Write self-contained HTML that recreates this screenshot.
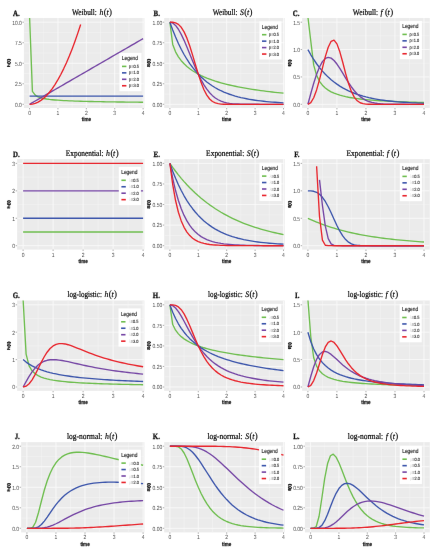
<!DOCTYPE html>
<html><head><meta charset="utf-8"><style>
html,body{margin:0;padding:0;background:#fff;}
body{width:439px;height:550px;overflow:hidden;font-family:"Liberation Sans",sans-serif;}
svg{display:block;font-family:"Liberation Sans",sans-serif;}
</style></head><body>
<svg width="439" height="550" viewBox="0 0 439 550" font-family="Liberation Sans, sans-serif" text-rendering="geometricPrecision">
<defs><clipPath id="cA"><rect x="23.9" y="18" width="120.5" height="90"/></clipPath><clipPath id="cB"><rect x="164.2" y="18" width="120.5" height="90"/></clipPath><clipPath id="cC"><rect x="302.1" y="18" width="127.7" height="90"/></clipPath><clipPath id="cD"><rect x="17.1" y="159.1" width="127.3" height="90.5"/></clipPath><clipPath id="cE"><rect x="164.2" y="159.1" width="120.5" height="90.5"/></clipPath><clipPath id="cF"><rect x="302.1" y="159.1" width="127.7" height="90.5"/></clipPath><clipPath id="cG"><rect x="17.1" y="300.5" width="127.3" height="90.4"/></clipPath><clipPath id="cH"><rect x="164.2" y="300.5" width="120.5" height="90.4"/></clipPath><clipPath id="cI"><rect x="302.1" y="300.5" width="127.7" height="90.4"/></clipPath><clipPath id="cJ"><rect x="21.1" y="442.1" width="123.3" height="90.3"/></clipPath><clipPath id="cK"><rect x="164.2" y="442.1" width="120.5" height="90.3"/></clipPath><clipPath id="cL"><rect x="304.9" y="442.1" width="124.9" height="90.3"/></clipPath><filter id="soft" x="0" y="0" width="439" height="550" filterUnits="userSpaceOnUse" color-interpolation-filters="sRGB"><feConvolveMatrix order="3" kernelMatrix="0.0009 0.0278 0.0009 0.0278 0.8855 0.0278 0.0009 0.0278 0.0009" divisor="1" edgeMode="duplicate"/></filter></defs>
<g filter="url(#soft)">
<rect width="439" height="550" fill="#ffffff"/>
<g><rect x="23.9" y="18" width="120.5" height="90" fill="#ebebeb"/><path d="M15.39 18V108M43.77 18V108M72.15 18V108M100.53 18V108M128.91 18V108M157.29 18V108M23.9 114.56H144.4M23.9 94.04H144.4M23.9 73.51H144.4M23.9 52.99H144.4M23.9 32.46H144.4M23.9 11.94H144.4" stroke="#f4f4f4" stroke-width="0.5" fill="none" clip-path="url(#cA)"/><path d="M29.58 18V108M57.96 18V108M86.34 18V108M114.72 18V108M143.1 18V108M23.9 104.3H144.4M23.9 83.78H144.4M23.9 63.25H144.4M23.9 42.73H144.4M23.9 22.2H144.4" stroke="#f9f9f9" stroke-width="0.9" fill="none" clip-path="url(#cA)"/><path d="M29.58 17 L32.41 91.32 L35.25 95.12 L38.09 96.81 L40.93 97.81 L43.77 98.49 L46.6 99 L49.44 99.39 L52.28 99.71 L55.12 99.97 L57.96 100.19 L60.8 100.39 L63.63 100.55 L66.47 100.7 L69.31 100.83 L72.15 100.95 L74.99 101.05 L77.82 101.15 L80.66 101.24 L83.5 101.32 L86.34 101.4 L89.18 101.47 L92.01 101.53 L94.85 101.59 L97.69 101.65 L100.53 101.7 L103.37 101.75 L106.2 101.8 L109.04 101.85 L111.88 101.89 L114.72 101.93 L117.56 101.97 L120.4 102.01 L123.23 102.04 L126.07 102.07 L128.91 102.11 L131.75 102.14 L134.59 102.17 L137.42 102.19 L140.26 102.22 L143.1 102.25" stroke="#6cbd4c" stroke-width="1.35" fill="none" stroke-linejoin="round" clip-path="url(#cA)"/><path d="M29.58 96.09 L32.41 96.09 L35.25 96.09 L38.09 96.09 L40.93 96.09 L43.77 96.09 L46.6 96.09 L49.44 96.09 L52.28 96.09 L55.12 96.09 L57.96 96.09 L60.8 96.09 L63.63 96.09 L66.47 96.09 L69.31 96.09 L72.15 96.09 L74.99 96.09 L77.82 96.09 L80.66 96.09 L83.5 96.09 L86.34 96.09 L89.18 96.09 L92.01 96.09 L94.85 96.09 L97.69 96.09 L100.53 96.09 L103.37 96.09 L106.2 96.09 L109.04 96.09 L111.88 96.09 L114.72 96.09 L117.56 96.09 L120.4 96.09 L123.23 96.09 L126.07 96.09 L128.91 96.09 L131.75 96.09 L134.59 96.09 L137.42 96.09 L140.26 96.09 L143.1 96.09" stroke="#3953aa" stroke-width="1.35" fill="none" stroke-linejoin="round" clip-path="url(#cA)"/><path d="M29.58 104.3 L32.41 102.66 L35.25 101.02 L38.09 99.37 L40.93 97.73 L43.77 96.09 L46.6 94.45 L49.44 92.81 L52.28 91.16 L55.12 89.52 L57.96 87.88 L60.8 86.24 L63.63 84.6 L66.47 82.95 L69.31 81.31 L72.15 79.67 L74.99 78.03 L77.82 76.39 L80.66 74.74 L83.5 73.1 L86.34 71.46 L89.18 69.82 L92.01 68.18 L94.85 66.53 L97.69 64.89 L100.53 63.25 L103.37 61.61 L106.2 59.97 L109.04 58.32 L111.88 56.68 L114.72 55.04 L117.56 53.4 L120.4 51.76 L123.23 50.11 L126.07 48.47 L128.91 46.83 L131.75 45.19 L134.59 43.55 L137.42 41.9 L140.26 40.26 L143.1 38.62" stroke="#7343a3" stroke-width="1.35" fill="none" stroke-linejoin="round" clip-path="url(#cA)"/><path d="M29.58 104.3 L32.41 104.05 L35.25 103.31 L38.09 102.08 L40.93 100.36 L43.77 98.14 L46.6 95.43 L49.44 92.23 L52.28 88.54 L55.12 84.35 L57.96 79.67 L60.8 74.5 L63.63 68.83 L66.47 62.68 L69.31 56.03 L72.15 48.88 L74.99 41.25 L77.82 33.12 L80.66 24.5" stroke="#e8222a" stroke-width="1.35" fill="none" stroke-linejoin="round" clip-path="url(#cA)"/><rect x="119.4" y="53" width="22.1" height="38.2" fill="#ffffff"/><text transform="translate(121.8 60.3) scale(1 1.2)" font-size="4.85" fill="#1a1a1a" stroke="#1a1a1a" stroke-width="0.12">Legend</text><path d="M122 66.4H126.4" stroke="#6cbd4c" stroke-width="1.6"/><text transform="translate(129 68) scale(1 1.2)" font-size="3.9" fill="#333" stroke="#333" stroke-width="0.12">p=0.5</text><path d="M122 72.85H126.4" stroke="#3953aa" stroke-width="1.6"/><text transform="translate(129 74.45) scale(1 1.2)" font-size="3.9" fill="#333" stroke="#333" stroke-width="0.12">p=1.0</text><path d="M122 79.3H126.4" stroke="#7343a3" stroke-width="1.6"/><text transform="translate(129 80.9) scale(1 1.2)" font-size="3.9" fill="#333" stroke="#333" stroke-width="0.12">p=2.0</text><path d="M122 85.75H126.4" stroke="#e8222a" stroke-width="1.6"/><text transform="translate(129 87.35) scale(1 1.2)" font-size="3.9" fill="#333" stroke="#333" stroke-width="0.12">p=3.0</text><path d="M22.5 104.3H23.9" stroke="#333" stroke-width="0.4"/><text transform="translate(21.9 106.65) scale(1 1.2)" font-size="5.0" fill="#4d4d4d" text-anchor="end">0.0</text><path d="M22.5 83.78H23.9" stroke="#333" stroke-width="0.4"/><text transform="translate(21.9 86.12) scale(1 1.2)" font-size="5.0" fill="#4d4d4d" text-anchor="end">2.5</text><path d="M22.5 63.25H23.9" stroke="#333" stroke-width="0.4"/><text transform="translate(21.9 65.6) scale(1 1.2)" font-size="5.0" fill="#4d4d4d" text-anchor="end">5.0</text><path d="M22.5 42.73H23.9" stroke="#333" stroke-width="0.4"/><text transform="translate(21.9 45.08) scale(1 1.2)" font-size="5.0" fill="#4d4d4d" text-anchor="end">7.5</text><path d="M22.5 22.2H23.9" stroke="#333" stroke-width="0.4"/><text transform="translate(21.9 24.55) scale(1 1.2)" font-size="5.0" fill="#4d4d4d" text-anchor="end">10.0</text><path d="M29.58 108V109.4" stroke="#333" stroke-width="0.4"/><text transform="translate(29.58 115) scale(1 1.2)" font-size="5.0" fill="#4d4d4d" text-anchor="middle">0</text><path d="M57.96 108V109.4" stroke="#333" stroke-width="0.4"/><text transform="translate(57.96 115) scale(1 1.2)" font-size="5.0" fill="#4d4d4d" text-anchor="middle">1</text><path d="M86.34 108V109.4" stroke="#333" stroke-width="0.4"/><text transform="translate(86.34 115) scale(1 1.2)" font-size="5.0" fill="#4d4d4d" text-anchor="middle">2</text><path d="M114.72 108V109.4" stroke="#333" stroke-width="0.4"/><text transform="translate(114.72 115) scale(1 1.2)" font-size="5.0" fill="#4d4d4d" text-anchor="middle">3</text><path d="M143.1 108V109.4" stroke="#333" stroke-width="0.4"/><text transform="translate(143.1 115) scale(1 1.2)" font-size="5.0" fill="#4d4d4d" text-anchor="middle">4</text><text transform="translate(86.34 121.2) scale(1 1.25)" font-size="4.5" fill="#111" stroke="#111" stroke-width="0.2" text-anchor="middle" font-weight="bold">time</text><text transform="translate(10 63) scale(1 1.3) rotate(-90)" font-size="4.0" fill="#111" stroke="#111" stroke-width="0.3" text-anchor="middle" font-weight="bold">h(t)</text><text transform="translate(72 14.7) scale(1 1.1)" font-size="7.8" fill="#000" stroke="#000" stroke-width="0.18" font-family="Liberation Serif" textLength="24.9" lengthAdjust="spacingAndGlyphs">Weibull:</text><text transform="translate(0 14.7) scale(1 1.1)" font-size="7.8" fill="#000" stroke="#000" stroke-width="0.16" font-family="Liberation Serif"><tspan x="99.4" font-style="italic">h</tspan><tspan x="103.8" font-size="8.8" dy="0.3">(</tspan><tspan x="106.4" font-style="italic" dy="-0.3">t</tspan><tspan x="109.05" font-size="8.8" dy="0.3">)</tspan></text><text transform="translate(19.8 15.5) scale(0.84 1.0)" font-size="8.2" fill="#111" stroke="#111" stroke-width="0.3" text-anchor="end" font-weight="bold" font-family="Liberation Serif">A.</text></g>
<g><rect x="164.2" y="18" width="120.5" height="90" fill="#ebebeb"/><path d="M155.68 18V108M184.08 18V108M212.49 18V108M240.89 18V108M269.3 18V108M297.7 18V108M164.2 114.56H284.7M164.2 94.04H284.7M164.2 73.51H284.7M164.2 52.99H284.7M164.2 32.46H284.7M164.2 11.94H284.7" stroke="#f4f4f4" stroke-width="0.5" fill="none" clip-path="url(#cB)"/><path d="M169.88 18V108M198.29 18V108M226.69 18V108M255.1 18V108M283.5 18V108M164.2 104.3H284.7M164.2 83.78H284.7M164.2 63.25H284.7M164.2 42.73H284.7M164.2 22.2H284.7" stroke="#f9f9f9" stroke-width="0.9" fill="none" clip-path="url(#cB)"/><path d="M169.88 22.2 L172.72 44.46 L175.56 51.8 L178.4 56.82 L181.24 60.68 L184.08 63.82 L186.92 66.46 L189.76 68.74 L192.6 70.73 L195.45 72.51 L198.29 74.1 L201.13 75.54 L203.97 76.85 L206.81 78.05 L209.65 79.15 L212.49 80.18 L215.33 81.13 L218.17 82.01 L221.01 82.84 L223.85 83.61 L226.69 84.34 L229.53 85.03 L232.37 85.67 L235.21 86.28 L238.05 86.86 L240.89 87.41 L243.73 87.93 L246.57 88.42 L249.41 88.9 L252.25 89.35 L255.1 89.77 L257.94 90.18 L260.78 90.58 L263.62 90.95 L266.46 91.31 L269.3 91.66 L272.14 91.99 L274.98 92.31 L277.82 92.61 L280.66 92.91 L283.5 93.19" stroke="#6cbd4c" stroke-width="1.35" fill="none" stroke-linejoin="round" clip-path="url(#cB)"/><path d="M169.88 22.2 L172.72 30.01 L175.56 37.08 L178.4 43.48 L181.24 49.27 L184.08 54.5 L186.92 59.24 L189.76 63.53 L192.6 67.41 L195.45 70.92 L198.29 74.1 L201.13 76.97 L203.97 79.57 L206.81 81.93 L209.65 84.05 L212.49 85.98 L215.33 87.72 L218.17 89.3 L221.01 90.73 L223.85 92.02 L226.69 93.19 L229.53 94.25 L232.37 95.2 L235.21 96.07 L238.05 96.85 L240.89 97.56 L243.73 98.2 L246.57 98.78 L249.41 99.31 L252.25 99.78 L255.1 100.21 L257.94 100.6 L260.78 100.95 L263.62 101.27 L266.46 101.56 L269.3 101.82 L272.14 102.06 L274.98 102.27 L277.82 102.46 L280.66 102.64 L283.5 102.8" stroke="#3953aa" stroke-width="1.35" fill="none" stroke-linejoin="round" clip-path="url(#cB)"/><path d="M169.88 22.2 L172.72 23.02 L175.56 25.42 L178.4 29.27 L181.24 34.34 L184.08 40.36 L186.92 47.02 L189.76 54 L192.6 61.01 L195.45 67.78 L198.29 74.1 L201.13 79.82 L203.97 84.85 L206.81 89.15 L209.65 92.74 L212.49 95.65 L215.33 97.95 L218.17 99.74 L221.01 101.08 L223.85 102.08 L226.69 102.8 L229.53 103.3 L232.37 103.65 L235.21 103.89 L238.05 104.04 L240.89 104.14 L243.73 104.2 L246.57 104.24 L249.41 104.27 L252.25 104.28 L255.1 104.29 L257.94 104.29 L260.78 104.3 L263.62 104.3 L266.46 104.3 L269.3 104.3 L272.14 104.3 L274.98 104.3 L277.82 104.3 L280.66 104.3 L283.5 104.3" stroke="#7343a3" stroke-width="1.35" fill="none" stroke-linejoin="round" clip-path="url(#cB)"/><path d="M169.88 22.2 L172.72 22.28 L175.56 22.85 L178.4 24.39 L181.24 27.29 L184.08 31.85 L186.92 38.15 L189.76 46.04 L192.6 55.1 L195.45 64.7 L198.29 74.1 L201.13 82.61 L203.97 89.72 L206.81 95.18 L209.65 99.02 L212.49 101.49 L215.33 102.93 L218.17 103.7 L221.01 104.06 L223.85 104.21 L226.69 104.27 L229.53 104.29 L232.37 104.3 L235.21 104.3 L238.05 104.3 L240.89 104.3 L243.73 104.3 L246.57 104.3 L249.41 104.3 L252.25 104.3 L255.1 104.3 L257.94 104.3 L260.78 104.3 L263.62 104.3 L266.46 104.3 L269.3 104.3 L272.14 104.3 L274.98 104.3 L277.82 104.3 L280.66 104.3 L283.5 104.3" stroke="#e8222a" stroke-width="1.35" fill="none" stroke-linejoin="round" clip-path="url(#cB)"/><rect x="259.4" y="21.3" width="22.1" height="38.2" fill="#ffffff"/><text transform="translate(261.8 28.6) scale(1 1.2)" font-size="4.85" fill="#1a1a1a" stroke="#1a1a1a" stroke-width="0.12">Legend</text><path d="M262 34.7H266.4" stroke="#6cbd4c" stroke-width="1.6"/><text transform="translate(269 36.3) scale(1 1.2)" font-size="3.9" fill="#333" stroke="#333" stroke-width="0.12">p=0.5</text><path d="M262 41.15H266.4" stroke="#3953aa" stroke-width="1.6"/><text transform="translate(269 42.75) scale(1 1.2)" font-size="3.9" fill="#333" stroke="#333" stroke-width="0.12">p=1.0</text><path d="M262 47.6H266.4" stroke="#7343a3" stroke-width="1.6"/><text transform="translate(269 49.2) scale(1 1.2)" font-size="3.9" fill="#333" stroke="#333" stroke-width="0.12">p=2.0</text><path d="M262 54.05H266.4" stroke="#e8222a" stroke-width="1.6"/><text transform="translate(269 55.65) scale(1 1.2)" font-size="3.9" fill="#333" stroke="#333" stroke-width="0.12">p=3.0</text><path d="M162.8 104.3H164.2" stroke="#333" stroke-width="0.4"/><text transform="translate(162.2 106.65) scale(1 1.2)" font-size="5.0" fill="#4d4d4d" text-anchor="end">0.00</text><path d="M162.8 83.78H164.2" stroke="#333" stroke-width="0.4"/><text transform="translate(162.2 86.12) scale(1 1.2)" font-size="5.0" fill="#4d4d4d" text-anchor="end">0.25</text><path d="M162.8 63.25H164.2" stroke="#333" stroke-width="0.4"/><text transform="translate(162.2 65.6) scale(1 1.2)" font-size="5.0" fill="#4d4d4d" text-anchor="end">0.50</text><path d="M162.8 42.73H164.2" stroke="#333" stroke-width="0.4"/><text transform="translate(162.2 45.08) scale(1 1.2)" font-size="5.0" fill="#4d4d4d" text-anchor="end">0.75</text><path d="M162.8 22.2H164.2" stroke="#333" stroke-width="0.4"/><text transform="translate(162.2 24.55) scale(1 1.2)" font-size="5.0" fill="#4d4d4d" text-anchor="end">1.00</text><path d="M169.88 108V109.4" stroke="#333" stroke-width="0.4"/><text transform="translate(169.88 115) scale(1 1.2)" font-size="5.0" fill="#4d4d4d" text-anchor="middle">0</text><path d="M198.29 108V109.4" stroke="#333" stroke-width="0.4"/><text transform="translate(198.29 115) scale(1 1.2)" font-size="5.0" fill="#4d4d4d" text-anchor="middle">1</text><path d="M226.69 108V109.4" stroke="#333" stroke-width="0.4"/><text transform="translate(226.69 115) scale(1 1.2)" font-size="5.0" fill="#4d4d4d" text-anchor="middle">2</text><path d="M255.1 108V109.4" stroke="#333" stroke-width="0.4"/><text transform="translate(255.1 115) scale(1 1.2)" font-size="5.0" fill="#4d4d4d" text-anchor="middle">3</text><path d="M283.5 108V109.4" stroke="#333" stroke-width="0.4"/><text transform="translate(283.5 115) scale(1 1.2)" font-size="5.0" fill="#4d4d4d" text-anchor="middle">4</text><text transform="translate(226.69 121.2) scale(1 1.25)" font-size="4.5" fill="#111" stroke="#111" stroke-width="0.2" text-anchor="middle" font-weight="bold">time</text><text transform="translate(150.3 63) scale(1 1.3) rotate(-90)" font-size="4.0" fill="#111" stroke="#111" stroke-width="0.3" text-anchor="middle" font-weight="bold">S(t)</text><text transform="translate(212.8 14.7) scale(1 1.1)" font-size="7.8" fill="#000" stroke="#000" stroke-width="0.18" font-family="Liberation Serif" textLength="24.6" lengthAdjust="spacingAndGlyphs">Weibull:</text><text transform="translate(0 14.7) scale(1 1.1)" font-size="7.8" fill="#000" stroke="#000" stroke-width="0.16" font-family="Liberation Serif"><tspan x="239.9" font-style="italic">S</tspan><tspan x="244.3" font-size="8.8" dy="0.3">(</tspan><tspan x="246.9" font-style="italic" dy="-0.3">t</tspan><tspan x="249.55" font-size="8.8" dy="0.3">)</tspan></text><text transform="translate(159.9 15.5) scale(0.84 1.0)" font-size="8.2" fill="#111" stroke="#111" stroke-width="0.3" text-anchor="end" font-weight="bold" font-family="Liberation Serif">B.</text></g>
<g><rect x="302.1" y="18" width="127.7" height="90" fill="#ebebeb"/><path d="M293.39 18V108M322.42 18V108M351.44 18V108M380.46 18V108M409.49 18V108M438.51 18V108M302.1 117.98H429.8M302.1 90.62H429.8M302.1 63.25H429.8M302.1 35.88H429.8M302.1 8.52H429.8" stroke="#f4f4f4" stroke-width="0.5" fill="none" clip-path="url(#cC)"/><path d="M307.9 18V108M336.93 18V108M365.95 18V108M394.98 18V108M424 18V108M302.1 104.3H429.8M302.1 76.93H429.8M302.1 49.57H429.8M302.1 22.2H429.8" stroke="#f9f9f9" stroke-width="0.9" fill="none" clip-path="url(#cC)"/><path d="M307.9 17 L310.81 41.22 L313.71 65.17 L316.61 75.41 L319.51 81.31 L322.42 85.22 L325.32 88.02 L328.22 90.13 L331.12 91.79 L334.03 93.13 L336.93 94.23 L339.83 95.16 L342.73 95.95 L345.64 96.63 L348.54 97.22 L351.44 97.73 L354.34 98.19 L357.25 98.6 L360.15 98.97 L363.05 99.3 L365.95 99.6 L368.85 99.87 L371.76 100.11 L374.66 100.34 L377.56 100.55 L380.46 100.74 L383.37 100.92 L386.27 101.08 L389.17 101.23 L392.07 101.37 L394.98 101.5 L397.88 101.63 L400.78 101.74 L403.68 101.85 L406.59 101.95 L409.49 102.05 L412.39 102.14 L415.29 102.22 L418.2 102.3 L421.1 102.38 L424 102.45" stroke="#6cbd4c" stroke-width="1.35" fill="none" stroke-linejoin="round" clip-path="url(#cC)"/><path d="M307.9 49.57 L310.81 54.78 L313.71 59.49 L316.61 63.75 L319.51 67.61 L322.42 71.1 L325.32 74.26 L328.22 77.12 L331.12 79.71 L334.03 82.05 L336.93 84.16 L339.83 86.08 L342.73 87.81 L345.64 89.38 L348.54 90.8 L351.44 92.09 L354.34 93.25 L357.25 94.3 L360.15 95.25 L363.05 96.11 L365.95 96.89 L368.85 97.6 L371.76 98.24 L374.66 98.81 L377.56 99.33 L380.46 99.81 L383.37 100.23 L386.27 100.62 L389.17 100.97 L392.07 101.29 L394.98 101.57 L397.88 101.83 L400.78 102.07 L403.68 102.28 L406.59 102.47 L409.49 102.65 L412.39 102.8 L415.29 102.95 L418.2 103.08 L421.1 103.19 L424 103.3" stroke="#3953aa" stroke-width="1.35" fill="none" stroke-linejoin="round" clip-path="url(#cC)"/><path d="M307.9 104.3 L310.81 93.46 L313.71 83.27 L316.61 74.29 L319.51 66.99 L322.42 61.67 L325.32 58.48 L328.22 57.36 L331.12 58.12 L334.03 60.47 L336.93 64.03 L339.83 68.39 L342.73 73.18 L345.64 78.04 L348.54 82.71 L351.44 86.99 L354.34 90.76 L357.25 93.96 L360.15 96.58 L363.05 98.67 L365.95 100.29 L368.85 101.51 L371.76 102.4 L374.66 103.03 L377.56 103.47 L380.46 103.77 L383.37 103.97 L386.27 104.1 L389.17 104.18 L392.07 104.23 L394.98 104.26 L397.88 104.28 L400.78 104.29 L403.68 104.29 L406.59 104.3 L409.49 104.3 L412.39 104.3 L415.29 104.3 L418.2 104.3 L421.1 104.3 L424 104.3" stroke="#7343a3" stroke-width="1.35" fill="none" stroke-linejoin="round" clip-path="url(#cC)"/><path d="M307.9 104.3 L310.81 102.66 L313.71 97.78 L316.61 89.92 L319.51 79.66 L322.42 68.07 L325.32 56.67 L328.22 47.2 L331.12 41.32 L334.03 40.14 L336.93 43.89 L339.83 51.81 L342.73 62.3 L345.64 73.46 L348.54 83.6 L351.44 91.66 L354.34 97.31 L357.25 100.81 L360.15 102.74 L363.05 103.68 L365.95 104.08 L368.85 104.23 L371.76 104.28 L374.66 104.3 L377.56 104.3 L380.46 104.3 L383.37 104.3 L386.27 104.3 L389.17 104.3 L392.07 104.3 L394.98 104.3 L397.88 104.3 L400.78 104.3 L403.68 104.3 L406.59 104.3 L409.49 104.3 L412.39 104.3 L415.29 104.3 L418.2 104.3 L421.1 104.3 L424 104.3" stroke="#e8222a" stroke-width="1.35" fill="none" stroke-linejoin="round" clip-path="url(#cC)"/><rect x="399.8" y="21" width="22.1" height="38.2" fill="#ffffff"/><text transform="translate(402.2 28.3) scale(1 1.2)" font-size="4.85" fill="#1a1a1a" stroke="#1a1a1a" stroke-width="0.12">Legend</text><path d="M402.4 34.4H406.8" stroke="#6cbd4c" stroke-width="1.6"/><text transform="translate(409.4 36) scale(1 1.2)" font-size="3.9" fill="#333" stroke="#333" stroke-width="0.12">p=0.5</text><path d="M402.4 40.85H406.8" stroke="#3953aa" stroke-width="1.6"/><text transform="translate(409.4 42.45) scale(1 1.2)" font-size="3.9" fill="#333" stroke="#333" stroke-width="0.12">p=1.0</text><path d="M402.4 47.3H406.8" stroke="#7343a3" stroke-width="1.6"/><text transform="translate(409.4 48.9) scale(1 1.2)" font-size="3.9" fill="#333" stroke="#333" stroke-width="0.12">p=2.0</text><path d="M402.4 53.75H406.8" stroke="#e8222a" stroke-width="1.6"/><text transform="translate(409.4 55.35) scale(1 1.2)" font-size="3.9" fill="#333" stroke="#333" stroke-width="0.12">p=3.0</text><path d="M300.7 104.3H302.1" stroke="#333" stroke-width="0.4"/><text transform="translate(300.1 106.65) scale(1 1.2)" font-size="5.0" fill="#4d4d4d" text-anchor="end">0.0</text><path d="M300.7 76.93H302.1" stroke="#333" stroke-width="0.4"/><text transform="translate(300.1 79.28) scale(1 1.2)" font-size="5.0" fill="#4d4d4d" text-anchor="end">0.5</text><path d="M300.7 49.57H302.1" stroke="#333" stroke-width="0.4"/><text transform="translate(300.1 51.92) scale(1 1.2)" font-size="5.0" fill="#4d4d4d" text-anchor="end">1.0</text><path d="M300.7 22.2H302.1" stroke="#333" stroke-width="0.4"/><text transform="translate(300.1 24.55) scale(1 1.2)" font-size="5.0" fill="#4d4d4d" text-anchor="end">1.5</text><path d="M307.9 108V109.4" stroke="#333" stroke-width="0.4"/><text transform="translate(307.9 115) scale(1 1.2)" font-size="5.0" fill="#4d4d4d" text-anchor="middle">0</text><path d="M336.93 108V109.4" stroke="#333" stroke-width="0.4"/><text transform="translate(336.93 115) scale(1 1.2)" font-size="5.0" fill="#4d4d4d" text-anchor="middle">1</text><path d="M365.95 108V109.4" stroke="#333" stroke-width="0.4"/><text transform="translate(365.95 115) scale(1 1.2)" font-size="5.0" fill="#4d4d4d" text-anchor="middle">2</text><path d="M394.98 108V109.4" stroke="#333" stroke-width="0.4"/><text transform="translate(394.98 115) scale(1 1.2)" font-size="5.0" fill="#4d4d4d" text-anchor="middle">3</text><path d="M424 108V109.4" stroke="#333" stroke-width="0.4"/><text transform="translate(424 115) scale(1 1.2)" font-size="5.0" fill="#4d4d4d" text-anchor="middle">4</text><text transform="translate(365.95 121.2) scale(1 1.25)" font-size="4.5" fill="#111" stroke="#111" stroke-width="0.2" text-anchor="middle" font-weight="bold">time</text><text transform="translate(290.8 63) scale(1 1.3) rotate(-90)" font-size="4.0" fill="#111" stroke="#111" stroke-width="0.3" text-anchor="middle" font-weight="bold">f(t)</text><text transform="translate(352.8 14.7) scale(1 1.1)" font-size="7.8" fill="#000" stroke="#000" stroke-width="0.18" font-family="Liberation Serif" textLength="25.3" lengthAdjust="spacingAndGlyphs">Weibull:</text><text transform="translate(0 14.7) scale(1 1.1)" font-size="7.8" fill="#000" stroke="#000" stroke-width="0.16" font-family="Liberation Serif"><tspan x="380.6" font-style="italic">f</tspan><tspan x="385" font-size="8.8" dy="0.3">(</tspan><tspan x="387.6" font-style="italic" dy="-0.3">t</tspan><tspan x="390.25" font-size="8.8" dy="0.3">)</tspan></text><text transform="translate(299.5 15.5) scale(0.84 1.0)" font-size="8.2" fill="#111" stroke="#111" stroke-width="0.3" text-anchor="end" font-weight="bold" font-family="Liberation Serif">C.</text></g>
<g><rect x="17.1" y="159.1" width="127.3" height="90.5" fill="#ebebeb"/><path d="M8.1 159.1V249.6M38.1 159.1V249.6M68.1 159.1V249.6M98.1 159.1V249.6M128.1 159.1V249.6M158.1 159.1V249.6M17.1 259.42H144.4M17.1 231.98H144.4M17.1 204.55H144.4M17.1 177.12H144.4M17.1 149.68H144.4" stroke="#f4f4f4" stroke-width="0.5" fill="none" clip-path="url(#cD)"/><path d="M23.1 159.1V249.6M53.1 159.1V249.6M83.1 159.1V249.6M113.1 159.1V249.6M143.1 159.1V249.6M17.1 245.7H144.4M17.1 218.27H144.4M17.1 190.83H144.4M17.1 163.4H144.4" stroke="#f9f9f9" stroke-width="0.9" fill="none" clip-path="url(#cD)"/><path d="M23.1 231.98 L26.1 231.98 L29.1 231.98 L32.1 231.98 L35.1 231.98 L38.1 231.98 L41.1 231.98 L44.1 231.98 L47.1 231.98 L50.1 231.98 L53.1 231.98 L56.1 231.98 L59.1 231.98 L62.1 231.98 L65.1 231.98 L68.1 231.98 L71.1 231.98 L74.1 231.98 L77.1 231.98 L80.1 231.98 L83.1 231.98 L86.1 231.98 L89.1 231.98 L92.1 231.98 L95.1 231.98 L98.1 231.98 L101.1 231.98 L104.1 231.98 L107.1 231.98 L110.1 231.98 L113.1 231.98 L116.1 231.98 L119.1 231.98 L122.1 231.98 L125.1 231.98 L128.1 231.98 L131.1 231.98 L134.1 231.98 L137.1 231.98 L140.1 231.98 L143.1 231.98" stroke="#6cbd4c" stroke-width="1.35" fill="none" stroke-linejoin="round" clip-path="url(#cD)"/><path d="M23.1 218.27 L26.1 218.27 L29.1 218.27 L32.1 218.27 L35.1 218.27 L38.1 218.27 L41.1 218.27 L44.1 218.27 L47.1 218.27 L50.1 218.27 L53.1 218.27 L56.1 218.27 L59.1 218.27 L62.1 218.27 L65.1 218.27 L68.1 218.27 L71.1 218.27 L74.1 218.27 L77.1 218.27 L80.1 218.27 L83.1 218.27 L86.1 218.27 L89.1 218.27 L92.1 218.27 L95.1 218.27 L98.1 218.27 L101.1 218.27 L104.1 218.27 L107.1 218.27 L110.1 218.27 L113.1 218.27 L116.1 218.27 L119.1 218.27 L122.1 218.27 L125.1 218.27 L128.1 218.27 L131.1 218.27 L134.1 218.27 L137.1 218.27 L140.1 218.27 L143.1 218.27" stroke="#3953aa" stroke-width="1.35" fill="none" stroke-linejoin="round" clip-path="url(#cD)"/><path d="M23.1 190.83 L26.1 190.83 L29.1 190.83 L32.1 190.83 L35.1 190.83 L38.1 190.83 L41.1 190.83 L44.1 190.83 L47.1 190.83 L50.1 190.83 L53.1 190.83 L56.1 190.83 L59.1 190.83 L62.1 190.83 L65.1 190.83 L68.1 190.83 L71.1 190.83 L74.1 190.83 L77.1 190.83 L80.1 190.83 L83.1 190.83 L86.1 190.83 L89.1 190.83 L92.1 190.83 L95.1 190.83 L98.1 190.83 L101.1 190.83 L104.1 190.83 L107.1 190.83 L110.1 190.83 L113.1 190.83 L116.1 190.83 L119.1 190.83 L122.1 190.83 L125.1 190.83 L128.1 190.83 L131.1 190.83 L134.1 190.83 L137.1 190.83 L140.1 190.83 L143.1 190.83" stroke="#7343a3" stroke-width="1.35" fill="none" stroke-linejoin="round" clip-path="url(#cD)"/><path d="M23.1 163.4 L26.1 163.4 L29.1 163.4 L32.1 163.4 L35.1 163.4 L38.1 163.4 L41.1 163.4 L44.1 163.4 L47.1 163.4 L50.1 163.4 L53.1 163.4 L56.1 163.4 L59.1 163.4 L62.1 163.4 L65.1 163.4 L68.1 163.4 L71.1 163.4 L74.1 163.4 L77.1 163.4 L80.1 163.4 L83.1 163.4 L86.1 163.4 L89.1 163.4 L92.1 163.4 L95.1 163.4 L98.1 163.4 L101.1 163.4 L104.1 163.4 L107.1 163.4 L110.1 163.4 L113.1 163.4 L116.1 163.4 L119.1 163.4 L122.1 163.4 L125.1 163.4 L128.1 163.4 L131.1 163.4 L134.1 163.4 L137.1 163.4 L140.1 163.4 L143.1 163.4" stroke="#e8222a" stroke-width="1.35" fill="none" stroke-linejoin="round" clip-path="url(#cD)"/><rect x="118.8" y="166.9" width="22.1" height="38.2" fill="#ffffff"/><text transform="translate(121.2 174.2) scale(1 1.2)" font-size="4.85" fill="#1a1a1a" stroke="#1a1a1a" stroke-width="0.12">Legend</text><path d="M121.4 180.3H125.8" stroke="#6cbd4c" stroke-width="1.6"/><text transform="translate(129 181.9) scale(1 1.2)" font-size="3.9" fill="#333" stroke="#333" stroke-width="0.12"><tspan fill="#dcdcdc" stroke="none">λ</tspan>=0.5</text><path d="M121.4 186.75H125.8" stroke="#3953aa" stroke-width="1.6"/><text transform="translate(129 188.35) scale(1 1.2)" font-size="3.9" fill="#333" stroke="#333" stroke-width="0.12"><tspan fill="#dcdcdc" stroke="none">λ</tspan>=1.0</text><path d="M121.4 193.2H125.8" stroke="#7343a3" stroke-width="1.6"/><text transform="translate(129 194.8) scale(1 1.2)" font-size="3.9" fill="#333" stroke="#333" stroke-width="0.12"><tspan fill="#dcdcdc" stroke="none">λ</tspan>=2.0</text><path d="M121.4 199.65H125.8" stroke="#e8222a" stroke-width="1.6"/><text transform="translate(129 201.25) scale(1 1.2)" font-size="3.9" fill="#333" stroke="#333" stroke-width="0.12"><tspan fill="#dcdcdc" stroke="none">λ</tspan>=3.0</text><path d="M15.7 245.7H17.1" stroke="#333" stroke-width="0.4"/><text transform="translate(15.1 248.05) scale(1 1.2)" font-size="5.0" fill="#4d4d4d" text-anchor="end">0</text><path d="M15.7 218.27H17.1" stroke="#333" stroke-width="0.4"/><text transform="translate(15.1 220.62) scale(1 1.2)" font-size="5.0" fill="#4d4d4d" text-anchor="end">1</text><path d="M15.7 190.83H17.1" stroke="#333" stroke-width="0.4"/><text transform="translate(15.1 193.18) scale(1 1.2)" font-size="5.0" fill="#4d4d4d" text-anchor="end">2</text><path d="M15.7 163.4H17.1" stroke="#333" stroke-width="0.4"/><text transform="translate(15.1 165.75) scale(1 1.2)" font-size="5.0" fill="#4d4d4d" text-anchor="end">3</text><path d="M23.1 249.6V251" stroke="#333" stroke-width="0.4"/><text transform="translate(23.1 256.6) scale(1 1.2)" font-size="5.0" fill="#4d4d4d" text-anchor="middle">0</text><path d="M53.1 249.6V251" stroke="#333" stroke-width="0.4"/><text transform="translate(53.1 256.6) scale(1 1.2)" font-size="5.0" fill="#4d4d4d" text-anchor="middle">1</text><path d="M83.1 249.6V251" stroke="#333" stroke-width="0.4"/><text transform="translate(83.1 256.6) scale(1 1.2)" font-size="5.0" fill="#4d4d4d" text-anchor="middle">2</text><path d="M113.1 249.6V251" stroke="#333" stroke-width="0.4"/><text transform="translate(113.1 256.6) scale(1 1.2)" font-size="5.0" fill="#4d4d4d" text-anchor="middle">3</text><path d="M143.1 249.6V251" stroke="#333" stroke-width="0.4"/><text transform="translate(143.1 256.6) scale(1 1.2)" font-size="5.0" fill="#4d4d4d" text-anchor="middle">4</text><text transform="translate(83.1 262.8) scale(1 1.25)" font-size="4.5" fill="#111" stroke="#111" stroke-width="0.2" text-anchor="middle" font-weight="bold">time</text><text transform="translate(10 204.35) scale(1 1.3) rotate(-90)" font-size="4.0" fill="#111" stroke="#111" stroke-width="0.3" text-anchor="middle" font-weight="bold">h(t)</text><text transform="translate(65.8 155.7) scale(1 1.1)" font-size="7.8" fill="#000" stroke="#000" stroke-width="0.18" font-family="Liberation Serif" textLength="37.7" lengthAdjust="spacingAndGlyphs">Exponential:</text><text transform="translate(0 155.7) scale(1 1.1)" font-size="7.8" fill="#000" stroke="#000" stroke-width="0.16" font-family="Liberation Serif"><tspan x="106" font-style="italic">h</tspan><tspan x="110.4" font-size="8.8" dy="0.3">(</tspan><tspan x="113" font-style="italic" dy="-0.3">t</tspan><tspan x="115.65" font-size="8.8" dy="0.3">)</tspan></text><text transform="translate(19.8 156.5) scale(0.84 1.0)" font-size="8.2" fill="#111" stroke="#111" stroke-width="0.3" text-anchor="end" font-weight="bold" font-family="Liberation Serif">D.</text></g>
<g><rect x="164.2" y="159.1" width="120.5" height="90.5" fill="#ebebeb"/><path d="M155.68 159.1V249.6M184.08 159.1V249.6M212.49 159.1V249.6M240.89 159.1V249.6M269.3 159.1V249.6M297.7 159.1V249.6M164.2 255.99H284.7M164.2 235.41H284.7M164.2 214.84H284.7M164.2 194.26H284.7M164.2 173.69H284.7M164.2 153.11H284.7" stroke="#f4f4f4" stroke-width="0.5" fill="none" clip-path="url(#cE)"/><path d="M169.88 159.1V249.6M198.29 159.1V249.6M226.69 159.1V249.6M255.1 159.1V249.6M283.5 159.1V249.6M164.2 245.7H284.7M164.2 225.12H284.7M164.2 204.55H284.7M164.2 183.97H284.7M164.2 163.4H284.7" stroke="#f9f9f9" stroke-width="0.9" fill="none" clip-path="url(#cE)"/><path d="M169.88 163.4 L172.72 167.41 L175.56 171.23 L178.4 174.86 L181.24 178.32 L184.08 181.6 L186.92 184.73 L189.76 187.7 L192.6 190.53 L195.45 193.22 L198.29 195.78 L201.13 198.22 L203.97 200.53 L206.81 202.74 L209.65 204.83 L212.49 206.82 L215.33 208.72 L218.17 210.52 L221.01 212.24 L223.85 213.87 L226.69 215.42 L229.53 216.9 L232.37 218.3 L235.21 219.64 L238.05 220.91 L240.89 222.12 L243.73 223.27 L246.57 224.36 L249.41 225.41 L252.25 226.39 L255.1 227.34 L257.94 228.23 L260.78 229.08 L263.62 229.89 L266.46 230.67 L269.3 231.4 L272.14 232.1 L274.98 232.76 L277.82 233.39 L280.66 233.99 L283.5 234.56" stroke="#6cbd4c" stroke-width="1.35" fill="none" stroke-linejoin="round" clip-path="url(#cE)"/><path d="M169.88 163.4 L172.72 171.23 L175.56 178.32 L178.4 184.73 L181.24 190.53 L184.08 195.78 L186.92 200.53 L189.76 204.83 L192.6 208.72 L195.45 212.24 L198.29 215.42 L201.13 218.3 L203.97 220.91 L206.81 223.27 L209.65 225.41 L212.49 227.34 L215.33 229.08 L218.17 230.67 L221.01 232.1 L223.85 233.39 L226.69 234.56 L229.53 235.62 L232.37 236.58 L235.21 237.45 L238.05 238.23 L240.89 238.94 L243.73 239.59 L246.57 240.17 L249.41 240.7 L252.25 241.17 L255.1 241.6 L257.94 241.99 L260.78 242.35 L263.62 242.66 L266.46 242.95 L269.3 243.21 L272.14 243.45 L274.98 243.67 L277.82 243.86 L280.66 244.03 L283.5 244.19" stroke="#3953aa" stroke-width="1.35" fill="none" stroke-linejoin="round" clip-path="url(#cE)"/><path d="M169.88 163.4 L172.72 178.32 L175.56 190.53 L178.4 200.53 L181.24 208.72 L184.08 215.42 L186.92 220.91 L189.76 225.41 L192.6 229.08 L195.45 232.1 L198.29 234.56 L201.13 236.58 L203.97 238.23 L206.81 239.59 L209.65 240.7 L212.49 241.6 L215.33 242.35 L218.17 242.95 L221.01 243.45 L223.85 243.86 L226.69 244.19 L229.53 244.47 L232.37 244.69 L235.21 244.87 L238.05 245.02 L240.89 245.15 L243.73 245.25 L246.57 245.33 L249.41 245.4 L252.25 245.45 L255.1 245.5 L257.94 245.53 L260.78 245.56 L263.62 245.59 L266.46 245.61 L269.3 245.62 L272.14 245.64 L274.98 245.65 L277.82 245.66 L280.66 245.67 L283.5 245.67" stroke="#7343a3" stroke-width="1.35" fill="none" stroke-linejoin="round" clip-path="url(#cE)"/><path d="M169.88 163.4 L172.72 184.73 L175.56 200.53 L178.4 212.24 L181.24 220.91 L184.08 227.34 L186.92 232.1 L189.76 235.62 L192.6 238.23 L195.45 240.17 L198.29 241.6 L201.13 242.66 L203.97 243.45 L206.81 244.03 L209.65 244.47 L212.49 244.79 L215.33 245.02 L218.17 245.2 L221.01 245.33 L223.85 245.42 L226.69 245.5 L229.53 245.55 L232.37 245.59 L235.21 245.62 L238.05 245.64 L240.89 245.65 L243.73 245.67 L246.57 245.68 L249.41 245.68 L252.25 245.69 L255.1 245.69 L257.94 245.69 L260.78 245.69 L263.62 245.7 L266.46 245.7 L269.3 245.7 L272.14 245.7 L274.98 245.7 L277.82 245.7 L280.66 245.7 L283.5 245.7" stroke="#e8222a" stroke-width="1.35" fill="none" stroke-linejoin="round" clip-path="url(#cE)"/><rect x="259.4" y="162.7" width="22.1" height="38.2" fill="#ffffff"/><text transform="translate(261.8 170) scale(1 1.2)" font-size="4.85" fill="#1a1a1a" stroke="#1a1a1a" stroke-width="0.12">Legend</text><path d="M262 176.1H266.4" stroke="#6cbd4c" stroke-width="1.6"/><text transform="translate(269.6 177.7) scale(1 1.2)" font-size="3.9" fill="#333" stroke="#333" stroke-width="0.12"><tspan fill="#dcdcdc" stroke="none">λ</tspan>=0.5</text><path d="M262 182.55H266.4" stroke="#3953aa" stroke-width="1.6"/><text transform="translate(269.6 184.15) scale(1 1.2)" font-size="3.9" fill="#333" stroke="#333" stroke-width="0.12"><tspan fill="#dcdcdc" stroke="none">λ</tspan>=1.0</text><path d="M262 189H266.4" stroke="#7343a3" stroke-width="1.6"/><text transform="translate(269.6 190.6) scale(1 1.2)" font-size="3.9" fill="#333" stroke="#333" stroke-width="0.12"><tspan fill="#dcdcdc" stroke="none">λ</tspan>=2.0</text><path d="M262 195.45H266.4" stroke="#e8222a" stroke-width="1.6"/><text transform="translate(269.6 197.05) scale(1 1.2)" font-size="3.9" fill="#333" stroke="#333" stroke-width="0.12"><tspan fill="#dcdcdc" stroke="none">λ</tspan>=3.0</text><path d="M162.8 245.7H164.2" stroke="#333" stroke-width="0.4"/><text transform="translate(162.2 248.05) scale(1 1.2)" font-size="5.0" fill="#4d4d4d" text-anchor="end">0.00</text><path d="M162.8 225.12H164.2" stroke="#333" stroke-width="0.4"/><text transform="translate(162.2 227.47) scale(1 1.2)" font-size="5.0" fill="#4d4d4d" text-anchor="end">0.25</text><path d="M162.8 204.55H164.2" stroke="#333" stroke-width="0.4"/><text transform="translate(162.2 206.9) scale(1 1.2)" font-size="5.0" fill="#4d4d4d" text-anchor="end">0.50</text><path d="M162.8 183.97H164.2" stroke="#333" stroke-width="0.4"/><text transform="translate(162.2 186.32) scale(1 1.2)" font-size="5.0" fill="#4d4d4d" text-anchor="end">0.75</text><path d="M162.8 163.4H164.2" stroke="#333" stroke-width="0.4"/><text transform="translate(162.2 165.75) scale(1 1.2)" font-size="5.0" fill="#4d4d4d" text-anchor="end">1.00</text><path d="M169.88 249.6V251" stroke="#333" stroke-width="0.4"/><text transform="translate(169.88 256.6) scale(1 1.2)" font-size="5.0" fill="#4d4d4d" text-anchor="middle">0</text><path d="M198.29 249.6V251" stroke="#333" stroke-width="0.4"/><text transform="translate(198.29 256.6) scale(1 1.2)" font-size="5.0" fill="#4d4d4d" text-anchor="middle">1</text><path d="M226.69 249.6V251" stroke="#333" stroke-width="0.4"/><text transform="translate(226.69 256.6) scale(1 1.2)" font-size="5.0" fill="#4d4d4d" text-anchor="middle">2</text><path d="M255.1 249.6V251" stroke="#333" stroke-width="0.4"/><text transform="translate(255.1 256.6) scale(1 1.2)" font-size="5.0" fill="#4d4d4d" text-anchor="middle">3</text><path d="M283.5 249.6V251" stroke="#333" stroke-width="0.4"/><text transform="translate(283.5 256.6) scale(1 1.2)" font-size="5.0" fill="#4d4d4d" text-anchor="middle">4</text><text transform="translate(226.69 262.8) scale(1 1.25)" font-size="4.5" fill="#111" stroke="#111" stroke-width="0.2" text-anchor="middle" font-weight="bold">time</text><text transform="translate(150.3 204.35) scale(1 1.3) rotate(-90)" font-size="4.0" fill="#111" stroke="#111" stroke-width="0.3" text-anchor="middle" font-weight="bold">S(t)</text><text transform="translate(206.1 155.7) scale(1 1.1)" font-size="7.8" fill="#000" stroke="#000" stroke-width="0.18" font-family="Liberation Serif" textLength="38.1" lengthAdjust="spacingAndGlyphs">Exponential:</text><text transform="translate(0 155.7) scale(1 1.1)" font-size="7.8" fill="#000" stroke="#000" stroke-width="0.16" font-family="Liberation Serif"><tspan x="246.7" font-style="italic">S</tspan><tspan x="251.1" font-size="8.8" dy="0.3">(</tspan><tspan x="253.7" font-style="italic" dy="-0.3">t</tspan><tspan x="256.35" font-size="8.8" dy="0.3">)</tspan></text><text transform="translate(159.9 156.5) scale(0.84 1.0)" font-size="8.2" fill="#111" stroke="#111" stroke-width="0.3" text-anchor="end" font-weight="bold" font-family="Liberation Serif">E.</text></g>
<g><rect x="302.1" y="159.1" width="127.7" height="90.5" fill="#ebebeb"/><path d="M293.39 159.1V249.6M322.42 159.1V249.6M351.44 159.1V249.6M380.46 159.1V249.6M409.49 159.1V249.6M438.51 159.1V249.6M302.1 259.42H429.8M302.1 231.98H429.8M302.1 204.55H429.8M302.1 177.12H429.8M302.1 149.68H429.8" stroke="#f4f4f4" stroke-width="0.5" fill="none" clip-path="url(#cF)"/><path d="M307.9 159.1V249.6M336.93 159.1V249.6M365.95 159.1V249.6M394.98 159.1V249.6M424 159.1V249.6M302.1 245.7H429.8M302.1 218.27H429.8M302.1 190.83H429.8M302.1 163.4H429.8" stroke="#f9f9f9" stroke-width="0.9" fill="none" clip-path="url(#cF)"/><path d="M307.9 218.27 L310.81 219.6 L313.71 220.88 L316.61 222.09 L319.51 223.24 L322.42 224.33 L325.32 225.38 L328.22 226.37 L331.12 227.31 L334.03 228.21 L336.93 229.06 L339.83 229.87 L342.73 230.64 L345.64 231.38 L348.54 232.08 L351.44 232.74 L354.34 233.37 L357.25 233.97 L360.15 234.55 L363.05 235.09 L365.95 235.61 L368.85 236.1 L371.76 236.57 L374.66 237.01 L377.56 237.44 L380.46 237.84 L383.37 238.22 L386.27 238.59 L389.17 238.94 L392.07 239.26 L394.98 239.58 L397.88 239.88 L400.78 240.16 L403.68 240.43 L406.59 240.69 L409.49 240.93 L412.39 241.17 L415.29 241.39 L418.2 241.6 L421.1 241.8 L424 241.99" stroke="#6cbd4c" stroke-width="1.35" fill="none" stroke-linejoin="round" clip-path="url(#cF)"/><path d="M307.9 190.83 L310.81 190.89 L313.71 191.27 L316.61 192.29 L319.51 194.23 L322.42 197.28 L325.32 201.49 L328.22 206.76 L331.12 212.82 L334.03 219.23 L336.93 225.52 L339.83 231.2 L342.73 235.95 L345.64 239.6 L348.54 242.17 L351.44 243.82 L354.34 244.79 L357.25 245.3 L360.15 245.54 L363.05 245.64 L365.95 245.68 L368.85 245.69 L371.76 245.7 L374.66 245.7 L377.56 245.7 L380.46 245.7 L383.37 245.7 L386.27 245.7 L389.17 245.7 L392.07 245.7 L394.98 245.7 L397.88 245.7 L400.78 245.7 L403.68 245.7 L406.59 245.7 L409.49 245.7 L412.39 245.7 L415.29 245.7 L418.2 245.7 L421.1 245.7 L424 245.7" stroke="#3953aa" stroke-width="1.35" fill="none" stroke-linejoin="round" clip-path="url(#cF)"/><path d="M319.51 179.94 L322.42 205.33 L325.32 226.21 L328.22 238.64 L331.12 243.87 L334.03 245.38 L336.93 245.66 L339.83 245.7 L342.73 245.7 L345.64 245.7 L348.54 245.7 L351.44 245.7 L354.34 245.7 L357.25 245.7 L360.15 245.7 L363.05 245.7 L365.95 245.7 L368.85 245.7 L371.76 245.7 L374.66 245.7 L377.56 245.7 L380.46 245.7 L383.37 245.7 L386.27 245.7 L389.17 245.7 L392.07 245.7 L394.98 245.7 L397.88 245.7 L400.78 245.7 L403.68 245.7 L406.59 245.7 L409.49 245.7 L412.39 245.7 L415.29 245.7 L418.2 245.7 L421.1 245.7 L424 245.7" stroke="#7343a3" stroke-width="1.35" fill="none" stroke-linejoin="round" clip-path="url(#cF)"/><path d="M316.61 166.3 L319.51 216.46 L322.42 240.07 L325.32 245.22 L328.22 245.68 L331.12 245.7 L334.03 245.7 L336.93 245.7 L339.83 245.7 L342.73 245.7 L345.64 245.7 L348.54 245.7 L351.44 245.7 L354.34 245.7 L357.25 245.7 L360.15 245.7 L363.05 245.7 L365.95 245.7 L368.85 245.7 L371.76 245.7 L374.66 245.7 L377.56 245.7 L380.46 245.7 L383.37 245.7 L386.27 245.7 L389.17 245.7 L392.07 245.7 L394.98 245.7 L397.88 245.7 L400.78 245.7 L403.68 245.7 L406.59 245.7 L409.49 245.7 L412.39 245.7 L415.29 245.7 L418.2 245.7 L421.1 245.7 L424 245.7" stroke="#e8222a" stroke-width="1.35" fill="none" stroke-linejoin="round" clip-path="url(#cF)"/><rect x="399.8" y="163" width="22.1" height="38.2" fill="#ffffff"/><text transform="translate(402.2 170.3) scale(1 1.2)" font-size="4.85" fill="#1a1a1a" stroke="#1a1a1a" stroke-width="0.12">Legend</text><path d="M402.4 176.4H406.8" stroke="#6cbd4c" stroke-width="1.6"/><text transform="translate(410 178) scale(1 1.2)" font-size="3.9" fill="#333" stroke="#333" stroke-width="0.12"><tspan fill="#dcdcdc" stroke="none">λ</tspan>=0.5</text><path d="M402.4 182.85H406.8" stroke="#3953aa" stroke-width="1.6"/><text transform="translate(410 184.45) scale(1 1.2)" font-size="3.9" fill="#333" stroke="#333" stroke-width="0.12"><tspan fill="#dcdcdc" stroke="none">λ</tspan>=1.0</text><path d="M402.4 189.3H406.8" stroke="#7343a3" stroke-width="1.6"/><text transform="translate(410 190.9) scale(1 1.2)" font-size="3.9" fill="#333" stroke="#333" stroke-width="0.12"><tspan fill="#dcdcdc" stroke="none">λ</tspan>=2.0</text><path d="M402.4 195.75H406.8" stroke="#e8222a" stroke-width="1.6"/><text transform="translate(410 197.35) scale(1 1.2)" font-size="3.9" fill="#333" stroke="#333" stroke-width="0.12"><tspan fill="#dcdcdc" stroke="none">λ</tspan>=3.0</text><path d="M300.7 245.7H302.1" stroke="#333" stroke-width="0.4"/><text transform="translate(300.1 248.05) scale(1 1.2)" font-size="5.0" fill="#4d4d4d" text-anchor="end">0.0</text><path d="M300.7 218.27H302.1" stroke="#333" stroke-width="0.4"/><text transform="translate(300.1 220.62) scale(1 1.2)" font-size="5.0" fill="#4d4d4d" text-anchor="end">0.5</text><path d="M300.7 190.83H302.1" stroke="#333" stroke-width="0.4"/><text transform="translate(300.1 193.18) scale(1 1.2)" font-size="5.0" fill="#4d4d4d" text-anchor="end">1.0</text><path d="M300.7 163.4H302.1" stroke="#333" stroke-width="0.4"/><text transform="translate(300.1 165.75) scale(1 1.2)" font-size="5.0" fill="#4d4d4d" text-anchor="end">1.5</text><path d="M307.9 249.6V251" stroke="#333" stroke-width="0.4"/><text transform="translate(307.9 256.6) scale(1 1.2)" font-size="5.0" fill="#4d4d4d" text-anchor="middle">0</text><path d="M336.93 249.6V251" stroke="#333" stroke-width="0.4"/><text transform="translate(336.93 256.6) scale(1 1.2)" font-size="5.0" fill="#4d4d4d" text-anchor="middle">1</text><path d="M365.95 249.6V251" stroke="#333" stroke-width="0.4"/><text transform="translate(365.95 256.6) scale(1 1.2)" font-size="5.0" fill="#4d4d4d" text-anchor="middle">2</text><path d="M394.98 249.6V251" stroke="#333" stroke-width="0.4"/><text transform="translate(394.98 256.6) scale(1 1.2)" font-size="5.0" fill="#4d4d4d" text-anchor="middle">3</text><path d="M424 249.6V251" stroke="#333" stroke-width="0.4"/><text transform="translate(424 256.6) scale(1 1.2)" font-size="5.0" fill="#4d4d4d" text-anchor="middle">4</text><text transform="translate(365.95 262.8) scale(1 1.25)" font-size="4.5" fill="#111" stroke="#111" stroke-width="0.2" text-anchor="middle" font-weight="bold">time</text><text transform="translate(290.8 204.35) scale(1 1.3) rotate(-90)" font-size="4.0" fill="#111" stroke="#111" stroke-width="0.3" text-anchor="middle" font-weight="bold">f(t)</text><text transform="translate(346.5 155.7) scale(1 1.1)" font-size="7.8" fill="#000" stroke="#000" stroke-width="0.18" font-family="Liberation Serif" textLength="37.8" lengthAdjust="spacingAndGlyphs">Exponential:</text><text transform="translate(0 155.7) scale(1 1.1)" font-size="7.8" fill="#000" stroke="#000" stroke-width="0.16" font-family="Liberation Serif"><tspan x="386.8" font-style="italic">f</tspan><tspan x="391.2" font-size="8.8" dy="0.3">(</tspan><tspan x="393.8" font-style="italic" dy="-0.3">t</tspan><tspan x="396.45" font-size="8.8" dy="0.3">)</tspan></text><text transform="translate(299.5 156.5) scale(0.84 1.0)" font-size="8.2" fill="#111" stroke="#111" stroke-width="0.3" text-anchor="end" font-weight="bold" font-family="Liberation Serif">F.</text></g>
<g><rect x="17.1" y="300.5" width="127.3" height="90.4" fill="#ebebeb"/><path d="M8.1 300.5V390.9M38.1 300.5V390.9M68.1 300.5V390.9M98.1 300.5V390.9M128.1 300.5V390.9M158.1 300.5V390.9M17.1 400.7H144.4M17.1 373.3H144.4M17.1 345.9H144.4M17.1 318.5H144.4M17.1 291.1H144.4" stroke="#f4f4f4" stroke-width="0.5" fill="none" clip-path="url(#cG)"/><path d="M23.1 300.5V390.9M53.1 300.5V390.9M83.1 300.5V390.9M113.1 300.5V390.9M143.1 300.5V390.9M17.1 387H144.4M17.1 359.6H144.4M17.1 332.2H144.4M17.1 304.8H144.4" stroke="#f9f9f9" stroke-width="0.9" fill="none" clip-path="url(#cG)"/><path d="M23.1 299.5 L26.1 354.09 L29.1 365.83 L32.1 370.84 L35.1 373.73 L38.1 375.65 L41.1 377.03 L44.1 378.08 L47.1 378.91 L50.1 379.59 L53.1 380.15 L56.1 380.62 L59.1 381.03 L62.1 381.39 L65.1 381.7 L68.1 381.97 L71.1 382.22 L74.1 382.44 L77.1 382.64 L80.1 382.82 L83.1 382.99 L86.1 383.14 L89.1 383.28 L92.1 383.41 L95.1 383.53 L98.1 383.64 L101.1 383.75 L104.1 383.85 L107.1 383.94 L110.1 384.02 L113.1 384.1 L116.1 384.18 L119.1 384.25 L122.1 384.32 L125.1 384.39 L128.1 384.45 L131.1 384.51 L134.1 384.56 L137.1 384.62 L140.1 384.67 L143.1 384.72" stroke="#6cbd4c" stroke-width="1.35" fill="none" stroke-linejoin="round" clip-path="url(#cG)"/><path d="M23.1 359.6 L26.1 362.09 L29.1 364.17 L32.1 365.92 L35.1 367.43 L38.1 368.73 L41.1 369.88 L44.1 370.88 L47.1 371.78 L50.1 372.58 L53.1 373.3 L56.1 373.95 L59.1 374.55 L62.1 375.09 L65.1 375.58 L68.1 376.04 L71.1 376.46 L74.1 376.85 L77.1 377.21 L80.1 377.55 L83.1 377.87 L86.1 378.16 L89.1 378.44 L92.1 378.7 L95.1 378.94 L98.1 379.17 L101.1 379.39 L104.1 379.59 L107.1 379.79 L110.1 379.97 L113.1 380.15 L116.1 380.32 L119.1 380.48 L122.1 380.63 L125.1 380.77 L128.1 380.91 L131.1 381.04 L134.1 381.17 L137.1 381.29 L140.1 381.41 L143.1 381.52" stroke="#3953aa" stroke-width="1.35" fill="none" stroke-linejoin="round" clip-path="url(#cG)"/><path d="M23.1 387 L26.1 381.57 L29.1 376.46 L32.1 371.92 L35.1 368.1 L38.1 365.08 L41.1 362.82 L44.1 361.26 L47.1 360.27 L50.1 359.75 L53.1 359.6 L56.1 359.72 L59.1 360.05 L62.1 360.52 L65.1 361.08 L68.1 361.71 L71.1 362.37 L74.1 363.05 L77.1 363.74 L80.1 364.41 L83.1 365.08 L86.1 365.73 L89.1 366.36 L92.1 366.96 L95.1 367.54 L98.1 368.1 L101.1 368.64 L104.1 369.15 L107.1 369.64 L110.1 370.11 L113.1 370.56 L116.1 370.99 L119.1 371.4 L122.1 371.79 L125.1 372.17 L128.1 372.52 L131.1 372.87 L134.1 373.2 L137.1 373.51 L140.1 373.82 L143.1 374.11" stroke="#7343a3" stroke-width="1.35" fill="none" stroke-linejoin="round" clip-path="url(#cG)"/><path d="M23.1 387 L26.1 386.18 L29.1 383.74 L32.1 379.8 L35.1 374.64 L38.1 368.73 L41.1 362.66 L44.1 357.01 L47.1 352.21 L50.1 348.49 L53.1 345.9 L56.1 344.33 L59.1 343.61 L62.1 343.55 L65.1 343.97 L68.1 344.73 L71.1 345.71 L74.1 346.82 L77.1 348.02 L80.1 349.24 L83.1 350.47 L86.1 351.67 L89.1 352.84 L92.1 353.98 L95.1 355.06 L98.1 356.1 L101.1 357.09 L104.1 358.03 L107.1 358.92 L110.1 359.77 L113.1 360.58 L116.1 361.35 L119.1 362.07 L122.1 362.77 L125.1 363.42 L128.1 364.05 L131.1 364.65 L134.1 365.21 L137.1 365.76 L140.1 366.27 L143.1 366.77" stroke="#e8222a" stroke-width="1.35" fill="none" stroke-linejoin="round" clip-path="url(#cG)"/><rect x="118.5" y="308.4" width="22.1" height="38.2" fill="#ffffff"/><text transform="translate(120.9 315.7) scale(1 1.2)" font-size="4.85" fill="#1a1a1a" stroke="#1a1a1a" stroke-width="0.12">Legend</text><path d="M121.1 321.8H125.5" stroke="#6cbd4c" stroke-width="1.6"/><text transform="translate(128.7 323.4) scale(1 1.2)" font-size="3.9" fill="#333" stroke="#333" stroke-width="0.12"><tspan fill="#dcdcdc" stroke="none">λ</tspan>=0.5</text><path d="M121.1 328.25H125.5" stroke="#3953aa" stroke-width="1.6"/><text transform="translate(128.7 329.85) scale(1 1.2)" font-size="3.9" fill="#333" stroke="#333" stroke-width="0.12"><tspan fill="#dcdcdc" stroke="none">λ</tspan>=1.0</text><path d="M121.1 334.7H125.5" stroke="#7343a3" stroke-width="1.6"/><text transform="translate(128.7 336.3) scale(1 1.2)" font-size="3.9" fill="#333" stroke="#333" stroke-width="0.12"><tspan fill="#dcdcdc" stroke="none">λ</tspan>=2.0</text><path d="M121.1 341.15H125.5" stroke="#e8222a" stroke-width="1.6"/><text transform="translate(128.7 342.75) scale(1 1.2)" font-size="3.9" fill="#333" stroke="#333" stroke-width="0.12"><tspan fill="#dcdcdc" stroke="none">λ</tspan>=3.0</text><path d="M15.7 387H17.1" stroke="#333" stroke-width="0.4"/><text transform="translate(15.1 389.35) scale(1 1.2)" font-size="5.0" fill="#4d4d4d" text-anchor="end">0</text><path d="M15.7 359.6H17.1" stroke="#333" stroke-width="0.4"/><text transform="translate(15.1 361.95) scale(1 1.2)" font-size="5.0" fill="#4d4d4d" text-anchor="end">1</text><path d="M15.7 332.2H17.1" stroke="#333" stroke-width="0.4"/><text transform="translate(15.1 334.55) scale(1 1.2)" font-size="5.0" fill="#4d4d4d" text-anchor="end">2</text><path d="M15.7 304.8H17.1" stroke="#333" stroke-width="0.4"/><text transform="translate(15.1 307.15) scale(1 1.2)" font-size="5.0" fill="#4d4d4d" text-anchor="end">3</text><path d="M23.1 390.9V392.3" stroke="#333" stroke-width="0.4"/><text transform="translate(23.1 397.9) scale(1 1.2)" font-size="5.0" fill="#4d4d4d" text-anchor="middle">0</text><path d="M53.1 390.9V392.3" stroke="#333" stroke-width="0.4"/><text transform="translate(53.1 397.9) scale(1 1.2)" font-size="5.0" fill="#4d4d4d" text-anchor="middle">1</text><path d="M83.1 390.9V392.3" stroke="#333" stroke-width="0.4"/><text transform="translate(83.1 397.9) scale(1 1.2)" font-size="5.0" fill="#4d4d4d" text-anchor="middle">2</text><path d="M113.1 390.9V392.3" stroke="#333" stroke-width="0.4"/><text transform="translate(113.1 397.9) scale(1 1.2)" font-size="5.0" fill="#4d4d4d" text-anchor="middle">3</text><path d="M143.1 390.9V392.3" stroke="#333" stroke-width="0.4"/><text transform="translate(143.1 397.9) scale(1 1.2)" font-size="5.0" fill="#4d4d4d" text-anchor="middle">4</text><text transform="translate(83.1 404.1) scale(1 1.25)" font-size="4.5" fill="#111" stroke="#111" stroke-width="0.2" text-anchor="middle" font-weight="bold">time</text><text transform="translate(10 345.7) scale(1 1.3) rotate(-90)" font-size="4.0" fill="#111" stroke="#111" stroke-width="0.3" text-anchor="middle" font-weight="bold">h(t)</text><text transform="translate(67.4 297) scale(1 1.1)" font-size="7.8" fill="#000" stroke="#000" stroke-width="0.18" font-family="Liberation Serif" textLength="34.5" lengthAdjust="spacingAndGlyphs">log-logistic:</text><text transform="translate(0 297) scale(1 1.1)" font-size="7.8" fill="#000" stroke="#000" stroke-width="0.16" font-family="Liberation Serif"><tspan x="104.4" font-style="italic">h</tspan><tspan x="108.8" font-size="8.8" dy="0.3">(</tspan><tspan x="111.4" font-style="italic" dy="-0.3">t</tspan><tspan x="114.05" font-size="8.8" dy="0.3">)</tspan></text><text transform="translate(19.8 297.6) scale(0.84 1.0)" font-size="8.2" fill="#111" stroke="#111" stroke-width="0.3" text-anchor="end" font-weight="bold" font-family="Liberation Serif">G.</text></g>
<g><rect x="164.2" y="300.5" width="120.5" height="90.4" fill="#ebebeb"/><path d="M155.68 300.5V390.9M184.08 300.5V390.9M212.49 300.5V390.9M240.89 300.5V390.9M269.3 300.5V390.9M297.7 300.5V390.9M164.2 397.27H284.7M164.2 376.73H284.7M164.2 356.18H284.7M164.2 335.62H284.7M164.2 315.08H284.7M164.2 294.52H284.7" stroke="#f4f4f4" stroke-width="0.5" fill="none" clip-path="url(#cH)"/><path d="M169.88 300.5V390.9M198.29 300.5V390.9M226.69 300.5V390.9M255.1 300.5V390.9M283.5 300.5V390.9M164.2 387H284.7M164.2 366.45H284.7M164.2 345.9H284.7M164.2 325.35H284.7M164.2 304.8H284.7" stroke="#f9f9f9" stroke-width="0.9" fill="none" clip-path="url(#cH)"/><path d="M169.88 304.8 L172.72 324.55 L175.56 330.2 L178.4 333.89 L181.24 336.65 L184.08 338.85 L186.92 340.68 L189.76 342.24 L192.6 343.61 L195.45 344.82 L198.29 345.9 L201.13 346.88 L203.97 347.77 L206.81 348.59 L209.65 349.35 L212.49 350.05 L215.33 350.71 L218.17 351.32 L221.01 351.9 L223.85 352.44 L226.69 352.95 L229.53 353.44 L232.37 353.9 L235.21 354.34 L238.05 354.75 L240.89 355.15 L243.73 355.54 L246.57 355.9 L249.41 356.25 L252.25 356.59 L255.1 356.91 L257.94 357.22 L260.78 357.53 L263.62 357.82 L266.46 358.1 L269.3 358.37 L272.14 358.63 L274.98 358.88 L277.82 359.13 L280.66 359.37 L283.5 359.6" stroke="#6cbd4c" stroke-width="1.35" fill="none" stroke-linejoin="round" clip-path="url(#cH)"/><path d="M169.88 304.8 L172.72 312.27 L175.56 318.5 L178.4 323.77 L181.24 328.29 L184.08 332.2 L186.92 335.62 L189.76 338.65 L192.6 341.33 L195.45 343.74 L198.29 345.9 L201.13 347.86 L203.97 349.64 L206.81 351.26 L209.65 352.75 L212.49 354.12 L215.33 355.38 L218.17 356.56 L221.01 357.64 L223.85 358.66 L226.69 359.6 L229.53 360.48 L232.37 361.31 L235.21 362.09 L238.05 362.82 L240.89 363.51 L243.73 364.17 L246.57 364.78 L249.41 365.37 L252.25 365.92 L255.1 366.45 L257.94 366.95 L260.78 367.43 L263.62 367.88 L266.46 368.32 L269.3 368.73 L272.14 369.13 L274.98 369.51 L277.82 369.88 L280.66 370.22 L283.5 370.56" stroke="#3953aa" stroke-width="1.35" fill="none" stroke-linejoin="round" clip-path="url(#cH)"/><path d="M169.88 304.8 L172.72 305.61 L175.56 307.96 L178.4 311.59 L181.24 316.14 L184.08 321.24 L186.92 326.56 L189.76 331.83 L192.6 336.88 L195.45 341.59 L198.29 345.9 L201.13 349.81 L203.97 353.31 L206.81 356.44 L209.65 359.23 L212.49 361.71 L215.33 363.91 L218.17 365.87 L221.01 367.61 L223.85 369.17 L226.69 370.56 L229.53 371.81 L232.37 372.92 L235.21 373.93 L238.05 374.84 L240.89 375.66 L243.73 376.41 L246.57 377.08 L249.41 377.7 L252.25 378.26 L255.1 378.78 L257.94 379.25 L260.78 379.69 L263.62 380.09 L266.46 380.46 L269.3 380.8 L272.14 381.11 L274.98 381.4 L277.82 381.68 L280.66 381.93 L283.5 382.16" stroke="#7343a3" stroke-width="1.35" fill="none" stroke-linejoin="round" clip-path="url(#cH)"/><path d="M169.88 304.8 L172.72 304.88 L175.56 305.45 L178.4 306.96 L181.24 309.74 L184.08 313.93 L186.92 319.4 L189.76 325.79 L192.6 332.63 L195.45 339.46 L198.29 345.9 L201.13 351.74 L203.97 356.87 L206.81 361.29 L209.65 365.04 L212.49 368.21 L215.33 370.87 L218.17 373.1 L221.01 374.97 L223.85 376.54 L226.69 377.87 L229.53 378.99 L232.37 379.94 L235.21 380.76 L238.05 381.45 L240.89 382.06 L243.73 382.57 L246.57 383.03 L249.41 383.42 L252.25 383.76 L255.1 384.06 L257.94 384.33 L260.78 384.57 L263.62 384.77 L266.46 384.96 L269.3 385.13 L272.14 385.28 L274.98 385.41 L277.82 385.53 L280.66 385.64 L283.5 385.74" stroke="#e8222a" stroke-width="1.35" fill="none" stroke-linejoin="round" clip-path="url(#cH)"/><rect x="259.1" y="303.9" width="22.1" height="38.2" fill="#ffffff"/><text transform="translate(261.5 311.2) scale(1 1.2)" font-size="4.85" fill="#1a1a1a" stroke="#1a1a1a" stroke-width="0.12">Legend</text><path d="M261.7 317.3H266.1" stroke="#6cbd4c" stroke-width="1.6"/><text transform="translate(269.3 318.9) scale(1 1.2)" font-size="3.9" fill="#333" stroke="#333" stroke-width="0.12"><tspan fill="#dcdcdc" stroke="none">λ</tspan>=0.5</text><path d="M261.7 323.75H266.1" stroke="#3953aa" stroke-width="1.6"/><text transform="translate(269.3 325.35) scale(1 1.2)" font-size="3.9" fill="#333" stroke="#333" stroke-width="0.12"><tspan fill="#dcdcdc" stroke="none">λ</tspan>=1.0</text><path d="M261.7 330.2H266.1" stroke="#7343a3" stroke-width="1.6"/><text transform="translate(269.3 331.8) scale(1 1.2)" font-size="3.9" fill="#333" stroke="#333" stroke-width="0.12"><tspan fill="#dcdcdc" stroke="none">λ</tspan>=2.0</text><path d="M261.7 336.65H266.1" stroke="#e8222a" stroke-width="1.6"/><text transform="translate(269.3 338.25) scale(1 1.2)" font-size="3.9" fill="#333" stroke="#333" stroke-width="0.12"><tspan fill="#dcdcdc" stroke="none">λ</tspan>=3.0</text><path d="M162.8 387H164.2" stroke="#333" stroke-width="0.4"/><text transform="translate(162.2 389.35) scale(1 1.2)" font-size="5.0" fill="#4d4d4d" text-anchor="end">0.00</text><path d="M162.8 366.45H164.2" stroke="#333" stroke-width="0.4"/><text transform="translate(162.2 368.8) scale(1 1.2)" font-size="5.0" fill="#4d4d4d" text-anchor="end">0.25</text><path d="M162.8 345.9H164.2" stroke="#333" stroke-width="0.4"/><text transform="translate(162.2 348.25) scale(1 1.2)" font-size="5.0" fill="#4d4d4d" text-anchor="end">0.50</text><path d="M162.8 325.35H164.2" stroke="#333" stroke-width="0.4"/><text transform="translate(162.2 327.7) scale(1 1.2)" font-size="5.0" fill="#4d4d4d" text-anchor="end">0.75</text><path d="M162.8 304.8H164.2" stroke="#333" stroke-width="0.4"/><text transform="translate(162.2 307.15) scale(1 1.2)" font-size="5.0" fill="#4d4d4d" text-anchor="end">1.00</text><path d="M169.88 390.9V392.3" stroke="#333" stroke-width="0.4"/><text transform="translate(169.88 397.9) scale(1 1.2)" font-size="5.0" fill="#4d4d4d" text-anchor="middle">0</text><path d="M198.29 390.9V392.3" stroke="#333" stroke-width="0.4"/><text transform="translate(198.29 397.9) scale(1 1.2)" font-size="5.0" fill="#4d4d4d" text-anchor="middle">1</text><path d="M226.69 390.9V392.3" stroke="#333" stroke-width="0.4"/><text transform="translate(226.69 397.9) scale(1 1.2)" font-size="5.0" fill="#4d4d4d" text-anchor="middle">2</text><path d="M255.1 390.9V392.3" stroke="#333" stroke-width="0.4"/><text transform="translate(255.1 397.9) scale(1 1.2)" font-size="5.0" fill="#4d4d4d" text-anchor="middle">3</text><path d="M283.5 390.9V392.3" stroke="#333" stroke-width="0.4"/><text transform="translate(283.5 397.9) scale(1 1.2)" font-size="5.0" fill="#4d4d4d" text-anchor="middle">4</text><text transform="translate(226.69 404.1) scale(1 1.25)" font-size="4.5" fill="#111" stroke="#111" stroke-width="0.2" text-anchor="middle" font-weight="bold">time</text><text transform="translate(150.3 345.7) scale(1 1.3) rotate(-90)" font-size="4.0" fill="#111" stroke="#111" stroke-width="0.3" text-anchor="middle" font-weight="bold">S(t)</text><text transform="translate(208.1 297) scale(1 1.1)" font-size="7.8" fill="#000" stroke="#000" stroke-width="0.18" font-family="Liberation Serif" textLength="34.6" lengthAdjust="spacingAndGlyphs">log-logistic:</text><text transform="translate(0 297) scale(1 1.1)" font-size="7.8" fill="#000" stroke="#000" stroke-width="0.16" font-family="Liberation Serif"><tspan x="245.2" font-style="italic">S</tspan><tspan x="249.6" font-size="8.8" dy="0.3">(</tspan><tspan x="252.2" font-style="italic" dy="-0.3">t</tspan><tspan x="254.85" font-size="8.8" dy="0.3">)</tspan></text><text transform="translate(159.9 297.6) scale(0.84 1.0)" font-size="8.2" fill="#111" stroke="#111" stroke-width="0.3" text-anchor="end" font-weight="bold" font-family="Liberation Serif">H.</text></g>
<g><rect x="302.1" y="300.5" width="127.7" height="90.4" fill="#ebebeb"/><path d="M293.39 300.5V390.9M322.42 300.5V390.9M351.44 300.5V390.9M380.46 300.5V390.9M409.49 300.5V390.9M438.51 300.5V390.9M302.1 400.7H429.8M302.1 373.3H429.8M302.1 345.9H429.8M302.1 318.5H429.8M302.1 291.1H429.8" stroke="#f4f4f4" stroke-width="0.5" fill="none" clip-path="url(#cI)"/><path d="M307.9 300.5V390.9M336.93 300.5V390.9M365.95 300.5V390.9M394.98 300.5V390.9M424 300.5V390.9M302.1 387H429.8M302.1 359.6H429.8M302.1 332.2H429.8M302.1 304.8H429.8" stroke="#f9f9f9" stroke-width="0.9" fill="none" clip-path="url(#cI)"/><path d="M307.9 299.5 L310.81 336.99 L313.71 357.75 L316.61 366.12 L319.51 370.74 L322.42 373.7 L325.32 375.77 L328.22 377.29 L331.12 378.46 L334.03 379.39 L336.93 380.15 L339.83 380.78 L342.73 381.3 L345.64 381.75 L348.54 382.14 L351.44 382.48 L354.34 382.78 L357.25 383.04 L360.15 383.28 L363.05 383.49 L365.95 383.68 L368.85 383.85 L371.76 384 L374.66 384.15 L377.56 384.28 L380.46 384.4 L383.37 384.51 L386.27 384.61 L389.17 384.71 L392.07 384.8 L394.98 384.88 L397.88 384.96 L400.78 385.03 L403.68 385.1 L406.59 385.16 L409.49 385.22 L412.39 385.28 L415.29 385.33 L418.2 385.38 L421.1 385.43 L424 385.48" stroke="#6cbd4c" stroke-width="1.35" fill="none" stroke-linejoin="round" clip-path="url(#cI)"/><path d="M307.9 332.2 L310.81 341.71 L313.71 348.94 L316.61 354.57 L319.51 359.04 L322.42 362.64 L325.32 365.59 L328.22 368.04 L331.12 370.09 L334.03 371.82 L336.93 373.3 L339.83 374.57 L342.73 375.68 L345.64 376.64 L348.54 377.49 L351.44 378.23 L354.34 378.89 L357.25 379.48 L360.15 380.01 L363.05 380.48 L365.95 380.91 L368.85 381.3 L371.76 381.65 L374.66 381.97 L377.56 382.26 L380.46 382.53 L383.37 382.77 L386.27 383 L389.17 383.2 L392.07 383.4 L394.98 383.57 L397.88 383.74 L400.78 383.89 L403.68 384.04 L406.59 384.17 L409.49 384.29 L412.39 384.41 L415.29 384.52 L418.2 384.62 L421.1 384.72 L424 384.81" stroke="#3953aa" stroke-width="1.35" fill="none" stroke-linejoin="round" clip-path="url(#cI)"/><path d="M307.9 387 L310.81 376.26 L313.71 366.73 L316.61 359.33 L319.51 354.42 L322.42 351.93 L325.32 351.45 L328.22 352.44 L331.12 354.4 L334.03 356.89 L336.93 359.6 L339.83 362.32 L342.73 364.91 L345.64 367.31 L348.54 369.49 L351.44 371.44 L354.34 373.16 L357.25 374.69 L360.15 376.03 L363.05 377.2 L365.95 378.23 L368.85 379.14 L371.76 379.93 L374.66 380.63 L377.56 381.24 L380.46 381.79 L383.37 382.27 L386.27 382.69 L389.17 383.07 L392.07 383.41 L394.98 383.71 L397.88 383.98 L400.78 384.22 L403.68 384.44 L406.59 384.64 L409.49 384.82 L412.39 384.98 L415.29 385.12 L418.2 385.25 L421.1 385.37 L424 385.48" stroke="#7343a3" stroke-width="1.35" fill="none" stroke-linejoin="round" clip-path="url(#cI)"/><path d="M307.9 387 L310.81 385.36 L313.71 380.53 L316.61 372.97 L319.51 363.77 L322.42 354.53 L325.32 346.97 L328.22 342.34 L331.12 340.98 L334.03 342.46 L336.93 345.9 L339.83 350.39 L342.73 355.19 L345.64 359.82 L348.54 364.01 L351.44 367.67 L354.34 370.79 L357.25 373.41 L360.15 375.59 L363.05 377.39 L365.95 378.88 L368.85 380.11 L371.76 381.14 L374.66 381.98 L377.56 382.69 L380.46 383.28 L383.37 383.78 L386.27 384.2 L389.17 384.55 L392.07 384.86 L394.98 385.11 L397.88 385.33 L400.78 385.52 L403.68 385.69 L406.59 385.83 L409.49 385.95 L412.39 386.06 L415.29 386.16 L418.2 386.24 L421.1 386.31 L424 386.38" stroke="#e8222a" stroke-width="1.35" fill="none" stroke-linejoin="round" clip-path="url(#cI)"/><rect x="399.6" y="304.1" width="22.1" height="38.2" fill="#ffffff"/><text transform="translate(402 311.4) scale(1 1.2)" font-size="4.85" fill="#1a1a1a" stroke="#1a1a1a" stroke-width="0.12">Legend</text><path d="M402.2 317.5H406.6" stroke="#6cbd4c" stroke-width="1.6"/><text transform="translate(409.8 319.1) scale(1 1.2)" font-size="3.9" fill="#333" stroke="#333" stroke-width="0.12"><tspan fill="#dcdcdc" stroke="none">λ</tspan>=0.5</text><path d="M402.2 323.95H406.6" stroke="#3953aa" stroke-width="1.6"/><text transform="translate(409.8 325.55) scale(1 1.2)" font-size="3.9" fill="#333" stroke="#333" stroke-width="0.12"><tspan fill="#dcdcdc" stroke="none">λ</tspan>=1.0</text><path d="M402.2 330.4H406.6" stroke="#7343a3" stroke-width="1.6"/><text transform="translate(409.8 332) scale(1 1.2)" font-size="3.9" fill="#333" stroke="#333" stroke-width="0.12"><tspan fill="#dcdcdc" stroke="none">λ</tspan>=2.0</text><path d="M402.2 336.85H406.6" stroke="#e8222a" stroke-width="1.6"/><text transform="translate(409.8 338.45) scale(1 1.2)" font-size="3.9" fill="#333" stroke="#333" stroke-width="0.12"><tspan fill="#dcdcdc" stroke="none">λ</tspan>=3.0</text><path d="M300.7 387H302.1" stroke="#333" stroke-width="0.4"/><text transform="translate(300.1 389.35) scale(1 1.2)" font-size="5.0" fill="#4d4d4d" text-anchor="end">0.0</text><path d="M300.7 359.6H302.1" stroke="#333" stroke-width="0.4"/><text transform="translate(300.1 361.95) scale(1 1.2)" font-size="5.0" fill="#4d4d4d" text-anchor="end">0.5</text><path d="M300.7 332.2H302.1" stroke="#333" stroke-width="0.4"/><text transform="translate(300.1 334.55) scale(1 1.2)" font-size="5.0" fill="#4d4d4d" text-anchor="end">1.0</text><path d="M300.7 304.8H302.1" stroke="#333" stroke-width="0.4"/><text transform="translate(300.1 307.15) scale(1 1.2)" font-size="5.0" fill="#4d4d4d" text-anchor="end">1.5</text><path d="M307.9 390.9V392.3" stroke="#333" stroke-width="0.4"/><text transform="translate(307.9 397.9) scale(1 1.2)" font-size="5.0" fill="#4d4d4d" text-anchor="middle">0</text><path d="M336.93 390.9V392.3" stroke="#333" stroke-width="0.4"/><text transform="translate(336.93 397.9) scale(1 1.2)" font-size="5.0" fill="#4d4d4d" text-anchor="middle">1</text><path d="M365.95 390.9V392.3" stroke="#333" stroke-width="0.4"/><text transform="translate(365.95 397.9) scale(1 1.2)" font-size="5.0" fill="#4d4d4d" text-anchor="middle">2</text><path d="M394.98 390.9V392.3" stroke="#333" stroke-width="0.4"/><text transform="translate(394.98 397.9) scale(1 1.2)" font-size="5.0" fill="#4d4d4d" text-anchor="middle">3</text><path d="M424 390.9V392.3" stroke="#333" stroke-width="0.4"/><text transform="translate(424 397.9) scale(1 1.2)" font-size="5.0" fill="#4d4d4d" text-anchor="middle">4</text><text transform="translate(365.95 404.1) scale(1 1.25)" font-size="4.5" fill="#111" stroke="#111" stroke-width="0.2" text-anchor="middle" font-weight="bold">time</text><text transform="translate(290.8 345.7) scale(1 1.3) rotate(-90)" font-size="4.0" fill="#111" stroke="#111" stroke-width="0.3" text-anchor="middle" font-weight="bold">f(t)</text><text transform="translate(347.8 297) scale(1 1.1)" font-size="7.8" fill="#000" stroke="#000" stroke-width="0.18" font-family="Liberation Serif" textLength="35.2" lengthAdjust="spacingAndGlyphs">log-logistic:</text><text transform="translate(0 297) scale(1 1.1)" font-size="7.8" fill="#000" stroke="#000" stroke-width="0.16" font-family="Liberation Serif"><tspan x="385.5" font-style="italic">f</tspan><tspan x="389.9" font-size="8.8" dy="0.3">(</tspan><tspan x="392.5" font-style="italic" dy="-0.3">t</tspan><tspan x="395.15" font-size="8.8" dy="0.3">)</tspan></text><text transform="translate(299.5 297.6) scale(0.84 1.0)" font-size="8.2" fill="#111" stroke="#111" stroke-width="0.3" text-anchor="end" font-weight="bold" font-family="Liberation Serif">I.</text></g>
<g><rect x="21.1" y="442.1" width="123.3" height="90.3" fill="#ebebeb"/><path d="M12.39 442.1V532.4M41.43 442.1V532.4M70.48 442.1V532.4M99.53 442.1V532.4M128.58 442.1V532.4M157.62 442.1V532.4M21.1 538.56H144.4M21.1 518.04H144.4M21.1 497.51H144.4M21.1 476.99H144.4M21.1 456.46H144.4M21.1 435.94H144.4" stroke="#f4f4f4" stroke-width="0.5" fill="none" clip-path="url(#cJ)"/><path d="M26.91 442.1V532.4M55.96 442.1V532.4M85 442.1V532.4M114.05 442.1V532.4M143.1 442.1V532.4M21.1 528.3H144.4M21.1 507.77H144.4M21.1 487.25H144.4M21.1 466.72H144.4M21.1 446.2H144.4" stroke="#f9f9f9" stroke-width="0.9" fill="none" clip-path="url(#cJ)"/><path d="M26.91 528.3 L29.81 528.29 L32.72 527.38 L35.62 522.24 L38.53 512.5 L41.43 500.98 L44.34 490.03 L47.24 480.7 L50.15 473.18 L53.05 467.29 L55.96 462.79 L58.86 459.41 L61.77 456.9 L64.67 455.09 L67.58 453.83 L70.48 452.99 L73.39 452.5 L76.29 452.27 L79.2 452.24 L82.1 452.39 L85 452.66 L87.91 453.04 L90.81 453.5 L93.72 454.02 L96.62 454.6 L99.53 455.2 L102.43 455.84 L105.34 456.5 L108.24 457.17 L111.15 457.85 L114.05 458.54 L116.96 459.23 L119.86 459.92 L122.77 460.61 L125.67 461.29 L128.58 461.97 L131.48 462.64 L134.39 463.3 L137.29 463.95 L140.2 464.6 L143.1 465.24" stroke="#6cbd4c" stroke-width="1.35" fill="none" stroke-linejoin="round" clip-path="url(#cJ)"/><path d="M26.91 528.3 L29.81 528.3 L32.72 528.28 L35.62 527.97 L38.53 526.81 L41.43 524.47 L44.34 521.07 L47.24 517.03 L50.15 512.76 L53.05 508.59 L55.96 504.69 L58.86 501.17 L61.77 498.05 L64.67 495.34 L67.58 493 L70.48 491 L73.39 489.3 L76.29 487.86 L79.2 486.66 L82.1 485.66 L85 484.83 L87.91 484.15 L90.81 483.6 L93.72 483.16 L96.62 482.82 L99.53 482.56 L102.43 482.38 L105.34 482.25 L108.24 482.18 L111.15 482.16 L114.05 482.18 L116.96 482.23 L119.86 482.32 L122.77 482.43 L125.67 482.56 L128.58 482.71 L131.48 482.88 L134.39 483.07 L137.29 483.27 L140.2 483.47 L143.1 483.69" stroke="#3953aa" stroke-width="1.35" fill="none" stroke-linejoin="round" clip-path="url(#cJ)"/><path d="M26.91 528.3 L29.81 528.3 L32.72 528.3 L35.62 528.29 L38.53 528.25 L41.43 528.09 L44.34 527.73 L47.24 527.12 L50.15 526.23 L53.05 525.1 L55.96 523.76 L58.86 522.3 L61.77 520.75 L64.67 519.17 L67.58 517.62 L70.48 516.1 L73.39 514.66 L76.29 513.29 L79.2 512.01 L82.1 510.82 L85 509.72 L87.91 508.72 L90.81 507.79 L93.72 506.95 L96.62 506.19 L99.53 505.49 L102.43 504.87 L105.34 504.3 L108.24 503.79 L111.15 503.33 L114.05 502.92 L116.96 502.55 L119.86 502.22 L122.77 501.93 L125.67 501.67 L128.58 501.44 L131.48 501.24 L134.39 501.06 L137.29 500.91 L140.2 500.78 L143.1 500.67" stroke="#7343a3" stroke-width="1.35" fill="none" stroke-linejoin="round" clip-path="url(#cJ)"/><path d="M26.91 528.3 L29.81 528.3 L32.72 528.3 L35.62 528.3 L38.53 528.3 L41.43 528.3 L44.34 528.3 L47.24 528.3 L50.15 528.3 L53.05 528.29 L55.96 528.29 L58.86 528.28 L61.77 528.26 L64.67 528.24 L67.58 528.21 L70.48 528.16 L73.39 528.11 L76.29 528.04 L79.2 527.96 L82.1 527.87 L85 527.76 L87.91 527.64 L90.81 527.5 L93.72 527.36 L96.62 527.2 L99.53 527.03 L102.43 526.85 L105.34 526.67 L108.24 526.47 L111.15 526.27 L114.05 526.07 L116.96 525.86 L119.86 525.65 L122.77 525.44 L125.67 525.23 L128.58 525.01 L131.48 524.8 L134.39 524.59 L137.29 524.38 L140.2 524.17 L143.1 523.97" stroke="#e8222a" stroke-width="1.35" fill="none" stroke-linejoin="round" clip-path="url(#cJ)"/><rect x="118.8" y="449.7" width="22.1" height="38.2" fill="#ffffff"/><text transform="translate(121.2 457) scale(1 1.2)" font-size="4.85" fill="#1a1a1a" stroke="#1a1a1a" stroke-width="0.12">Legend</text><path d="M121.4 463.1H125.8" stroke="#6cbd4c" stroke-width="1.6"/><text transform="translate(129 464.7) scale(1 1.2)" font-size="3.9" fill="#333" stroke="#333" stroke-width="0.12"><tspan fill="#dcdcdc" stroke="none">μ</tspan>=0.0</text><path d="M121.4 469.55H125.8" stroke="#3953aa" stroke-width="1.6"/><text transform="translate(129 471.15) scale(1 1.2)" font-size="3.9" fill="#333" stroke="#333" stroke-width="0.12"><tspan fill="#dcdcdc" stroke="none">μ</tspan>=0.5</text><path d="M121.4 476H125.8" stroke="#7343a3" stroke-width="1.6"/><text transform="translate(129 477.6) scale(1 1.2)" font-size="3.9" fill="#333" stroke="#333" stroke-width="0.12"><tspan fill="#dcdcdc" stroke="none">μ</tspan>=1.0</text><path d="M121.4 482.45H125.8" stroke="#e8222a" stroke-width="1.6"/><text transform="translate(129 484.05) scale(1 1.2)" font-size="3.9" fill="#333" stroke="#333" stroke-width="0.12"><tspan fill="#dcdcdc" stroke="none">μ</tspan>=2.0</text><path d="M19.7 528.3H21.1" stroke="#333" stroke-width="0.4"/><text transform="translate(19.1 530.65) scale(1 1.2)" font-size="5.0" fill="#4d4d4d" text-anchor="end">0.0</text><path d="M19.7 507.77H21.1" stroke="#333" stroke-width="0.4"/><text transform="translate(19.1 510.12) scale(1 1.2)" font-size="5.0" fill="#4d4d4d" text-anchor="end">0.5</text><path d="M19.7 487.25H21.1" stroke="#333" stroke-width="0.4"/><text transform="translate(19.1 489.6) scale(1 1.2)" font-size="5.0" fill="#4d4d4d" text-anchor="end">1.0</text><path d="M19.7 466.72H21.1" stroke="#333" stroke-width="0.4"/><text transform="translate(19.1 469.07) scale(1 1.2)" font-size="5.0" fill="#4d4d4d" text-anchor="end">1.5</text><path d="M19.7 446.2H21.1" stroke="#333" stroke-width="0.4"/><text transform="translate(19.1 448.55) scale(1 1.2)" font-size="5.0" fill="#4d4d4d" text-anchor="end">2.0</text><path d="M26.91 532.4V533.8" stroke="#333" stroke-width="0.4"/><text transform="translate(26.91 539.4) scale(1 1.2)" font-size="5.0" fill="#4d4d4d" text-anchor="middle">0</text><path d="M55.96 532.4V533.8" stroke="#333" stroke-width="0.4"/><text transform="translate(55.96 539.4) scale(1 1.2)" font-size="5.0" fill="#4d4d4d" text-anchor="middle">1</text><path d="M85 532.4V533.8" stroke="#333" stroke-width="0.4"/><text transform="translate(85 539.4) scale(1 1.2)" font-size="5.0" fill="#4d4d4d" text-anchor="middle">2</text><path d="M114.05 532.4V533.8" stroke="#333" stroke-width="0.4"/><text transform="translate(114.05 539.4) scale(1 1.2)" font-size="5.0" fill="#4d4d4d" text-anchor="middle">3</text><path d="M143.1 532.4V533.8" stroke="#333" stroke-width="0.4"/><text transform="translate(143.1 539.4) scale(1 1.2)" font-size="5.0" fill="#4d4d4d" text-anchor="middle">4</text><text transform="translate(85 545.6) scale(1 1.25)" font-size="4.5" fill="#111" stroke="#111" stroke-width="0.2" text-anchor="middle" font-weight="bold">time</text><text transform="translate(10 487.25) scale(1 1.3) rotate(-90)" font-size="4.0" fill="#111" stroke="#111" stroke-width="0.3" text-anchor="middle" font-weight="bold">h(t)</text><text transform="translate(67 439) scale(1 1.1)" font-size="7.8" fill="#000" stroke="#000" stroke-width="0.18" font-family="Liberation Serif" textLength="35.4" lengthAdjust="spacingAndGlyphs">log-normal:</text><text transform="translate(0 439) scale(1 1.1)" font-size="7.8" fill="#000" stroke="#000" stroke-width="0.16" font-family="Liberation Serif"><tspan x="104.9" font-style="italic">h</tspan><tspan x="109.3" font-size="8.8" dy="0.3">(</tspan><tspan x="111.9" font-style="italic" dy="-0.3">t</tspan><tspan x="114.55" font-size="8.8" dy="0.3">)</tspan></text><text transform="translate(19.8 439) scale(0.84 1.0)" font-size="8.2" fill="#111" stroke="#111" stroke-width="0.3" text-anchor="end" font-weight="bold" font-family="Liberation Serif">J.</text></g>
<g><rect x="164.2" y="442.1" width="120.5" height="90.3" fill="#ebebeb"/><path d="M155.68 442.1V532.4M184.08 442.1V532.4M212.49 442.1V532.4M240.89 442.1V532.4M269.3 442.1V532.4M297.7 442.1V532.4M164.2 538.56H284.7M164.2 518.04H284.7M164.2 497.51H284.7M164.2 476.99H284.7M164.2 456.46H284.7M164.2 435.94H284.7" stroke="#f4f4f4" stroke-width="0.5" fill="none" clip-path="url(#cK)"/><path d="M169.88 442.1V532.4M198.29 442.1V532.4M226.69 442.1V532.4M255.1 442.1V532.4M283.5 442.1V532.4M164.2 528.3H284.7M164.2 507.77H284.7M164.2 487.25H284.7M164.2 466.72H284.7M164.2 446.2H284.7" stroke="#f9f9f9" stroke-width="0.9" fill="none" clip-path="url(#cK)"/><path d="M169.88 446.2 L172.72 446.2 L175.56 446.25 L178.4 446.86 L181.24 448.94 L184.08 453 L186.92 458.8 L189.76 465.72 L192.6 473.1 L195.45 480.4 L198.29 487.25 L201.13 493.46 L203.97 498.93 L206.81 503.68 L209.65 507.73 L212.49 511.17 L215.33 514.05 L218.17 516.45 L221.01 518.46 L223.85 520.12 L226.69 521.5 L229.53 522.64 L232.37 523.59 L235.21 524.37 L238.05 525.02 L240.89 525.56 L243.73 526 L246.57 526.37 L249.41 526.68 L252.25 526.94 L255.1 527.15 L257.94 527.33 L260.78 527.48 L263.62 527.6 L266.46 527.71 L269.3 527.8 L272.14 527.87 L274.98 527.94 L277.82 527.99 L280.66 528.03 L283.5 528.07" stroke="#6cbd4c" stroke-width="1.35" fill="none" stroke-linejoin="round" clip-path="url(#cK)"/><path d="M169.88 446.2 L172.72 446.2 L175.56 446.2 L178.4 446.23 L181.24 446.39 L184.08 446.9 L186.92 447.97 L189.76 449.76 L192.6 452.28 L195.45 455.48 L198.29 459.23 L201.13 463.37 L203.97 467.76 L206.81 472.25 L209.65 476.73 L212.49 481.09 L215.33 485.29 L218.17 489.26 L221.01 492.97 L223.85 496.42 L226.69 499.59 L229.53 502.5 L232.37 505.15 L235.21 507.55 L238.05 509.72 L240.89 511.67 L243.73 513.43 L246.57 515 L249.41 516.42 L252.25 517.68 L255.1 518.81 L257.94 519.82 L260.78 520.72 L263.62 521.52 L266.46 522.24 L269.3 522.87 L272.14 523.44 L274.98 523.95 L277.82 524.4 L280.66 524.81 L283.5 525.17" stroke="#3953aa" stroke-width="1.35" fill="none" stroke-linejoin="round" clip-path="url(#cK)"/><path d="M169.88 446.2 L172.72 446.2 L175.56 446.2 L178.4 446.2 L181.24 446.21 L184.08 446.23 L186.92 446.3 L189.76 446.47 L192.6 446.79 L195.45 447.31 L198.29 448.07 L201.13 449.09 L203.97 450.39 L206.81 451.95 L209.65 453.77 L212.49 455.82 L215.33 458.07 L218.17 460.48 L221.01 463.02 L223.85 465.65 L226.69 468.34 L229.53 471.07 L232.37 473.8 L235.21 476.5 L238.05 479.18 L240.89 481.79 L243.73 484.34 L246.57 486.81 L249.41 489.19 L252.25 491.48 L255.1 493.67 L257.94 495.76 L260.78 497.75 L263.62 499.64 L266.46 501.43 L269.3 503.13 L272.14 504.73 L274.98 506.24 L277.82 507.66 L280.66 508.99 L283.5 510.25" stroke="#7343a3" stroke-width="1.35" fill="none" stroke-linejoin="round" clip-path="url(#cK)"/><path d="M169.88 446.2 L172.72 446.2 L175.56 446.2 L178.4 446.2 L181.24 446.2 L184.08 446.2 L186.92 446.2 L189.76 446.2 L192.6 446.2 L195.45 446.2 L198.29 446.2 L201.13 446.21 L203.97 446.21 L206.81 446.22 L209.65 446.24 L212.49 446.26 L215.33 446.29 L218.17 446.34 L221.01 446.39 L223.85 446.47 L226.69 446.57 L229.53 446.69 L232.37 446.83 L235.21 447 L238.05 447.21 L240.89 447.44 L243.73 447.71 L246.57 448.01 L249.41 448.35 L252.25 448.72 L255.1 449.13 L257.94 449.58 L260.78 450.07 L263.62 450.59 L266.46 451.15 L269.3 451.74 L272.14 452.37 L274.98 453.04 L277.82 453.73 L280.66 454.46 L283.5 455.22" stroke="#e8222a" stroke-width="1.35" fill="none" stroke-linejoin="round" clip-path="url(#cK)"/><rect x="259.1" y="445.8" width="22.1" height="38.2" fill="#ffffff"/><text transform="translate(261.5 453.1) scale(1 1.2)" font-size="4.85" fill="#1a1a1a" stroke="#1a1a1a" stroke-width="0.12">Legend</text><path d="M261.7 459.2H266.1" stroke="#6cbd4c" stroke-width="1.6"/><text transform="translate(269.3 460.8) scale(1 1.2)" font-size="3.9" fill="#333" stroke="#333" stroke-width="0.12"><tspan fill="#dcdcdc" stroke="none">μ</tspan>=0.0</text><path d="M261.7 465.65H266.1" stroke="#3953aa" stroke-width="1.6"/><text transform="translate(269.3 467.25) scale(1 1.2)" font-size="3.9" fill="#333" stroke="#333" stroke-width="0.12"><tspan fill="#dcdcdc" stroke="none">μ</tspan>=0.5</text><path d="M261.7 472.1H266.1" stroke="#7343a3" stroke-width="1.6"/><text transform="translate(269.3 473.7) scale(1 1.2)" font-size="3.9" fill="#333" stroke="#333" stroke-width="0.12"><tspan fill="#dcdcdc" stroke="none">μ</tspan>=1.0</text><path d="M261.7 478.55H266.1" stroke="#e8222a" stroke-width="1.6"/><text transform="translate(269.3 480.15) scale(1 1.2)" font-size="3.9" fill="#333" stroke="#333" stroke-width="0.12"><tspan fill="#dcdcdc" stroke="none">μ</tspan>=2.0</text><path d="M162.8 528.3H164.2" stroke="#333" stroke-width="0.4"/><text transform="translate(162.2 530.65) scale(1 1.2)" font-size="5.0" fill="#4d4d4d" text-anchor="end">0.00</text><path d="M162.8 507.77H164.2" stroke="#333" stroke-width="0.4"/><text transform="translate(162.2 510.12) scale(1 1.2)" font-size="5.0" fill="#4d4d4d" text-anchor="end">0.25</text><path d="M162.8 487.25H164.2" stroke="#333" stroke-width="0.4"/><text transform="translate(162.2 489.6) scale(1 1.2)" font-size="5.0" fill="#4d4d4d" text-anchor="end">0.50</text><path d="M162.8 466.72H164.2" stroke="#333" stroke-width="0.4"/><text transform="translate(162.2 469.07) scale(1 1.2)" font-size="5.0" fill="#4d4d4d" text-anchor="end">0.75</text><path d="M162.8 446.2H164.2" stroke="#333" stroke-width="0.4"/><text transform="translate(162.2 448.55) scale(1 1.2)" font-size="5.0" fill="#4d4d4d" text-anchor="end">1.00</text><path d="M169.88 532.4V533.8" stroke="#333" stroke-width="0.4"/><text transform="translate(169.88 539.4) scale(1 1.2)" font-size="5.0" fill="#4d4d4d" text-anchor="middle">0</text><path d="M198.29 532.4V533.8" stroke="#333" stroke-width="0.4"/><text transform="translate(198.29 539.4) scale(1 1.2)" font-size="5.0" fill="#4d4d4d" text-anchor="middle">1</text><path d="M226.69 532.4V533.8" stroke="#333" stroke-width="0.4"/><text transform="translate(226.69 539.4) scale(1 1.2)" font-size="5.0" fill="#4d4d4d" text-anchor="middle">2</text><path d="M255.1 532.4V533.8" stroke="#333" stroke-width="0.4"/><text transform="translate(255.1 539.4) scale(1 1.2)" font-size="5.0" fill="#4d4d4d" text-anchor="middle">3</text><path d="M283.5 532.4V533.8" stroke="#333" stroke-width="0.4"/><text transform="translate(283.5 539.4) scale(1 1.2)" font-size="5.0" fill="#4d4d4d" text-anchor="middle">4</text><text transform="translate(226.69 545.6) scale(1 1.25)" font-size="4.5" fill="#111" stroke="#111" stroke-width="0.2" text-anchor="middle" font-weight="bold">time</text><text transform="translate(150.3 487.25) scale(1 1.3) rotate(-90)" font-size="4.0" fill="#111" stroke="#111" stroke-width="0.3" text-anchor="middle" font-weight="bold">S(t)</text><text transform="translate(207.4 439) scale(1 1.1)" font-size="7.8" fill="#000" stroke="#000" stroke-width="0.18" font-family="Liberation Serif" textLength="35.3" lengthAdjust="spacingAndGlyphs">log-normal:</text><text transform="translate(0 439) scale(1 1.1)" font-size="7.8" fill="#000" stroke="#000" stroke-width="0.16" font-family="Liberation Serif"><tspan x="245.2" font-style="italic">S</tspan><tspan x="249.6" font-size="8.8" dy="0.3">(</tspan><tspan x="252.2" font-style="italic" dy="-0.3">t</tspan><tspan x="254.85" font-size="8.8" dy="0.3">)</tspan></text><text transform="translate(159.9 439) scale(0.84 1.0)" font-size="8.2" fill="#111" stroke="#111" stroke-width="0.3" text-anchor="end" font-weight="bold" font-family="Liberation Serif">K.</text></g>
<g><rect x="304.9" y="442.1" width="124.9" height="90.3" fill="#ebebeb"/><path d="M296.39 442.1V532.4M324.75 442.1V532.4M353.11 442.1V532.4M381.46 442.1V532.4M409.82 442.1V532.4M438.18 442.1V532.4M304.9 538.56H429.8M304.9 518.04H429.8M304.9 497.51H429.8M304.9 476.99H429.8M304.9 456.46H429.8M304.9 435.94H429.8" stroke="#f4f4f4" stroke-width="0.5" fill="none" clip-path="url(#cL)"/><path d="M310.57 442.1V532.4M338.93 442.1V532.4M367.29 442.1V532.4M395.64 442.1V532.4M424 442.1V532.4M304.9 528.3H429.8M304.9 507.77H429.8M304.9 487.25H429.8M304.9 466.72H429.8M304.9 446.2H429.8" stroke="#f9f9f9" stroke-width="0.9" fill="none" clip-path="url(#cL)"/><path d="M310.57 528.3 L313.41 528.28 L316.24 526.46 L319.08 516.27 L321.91 497.75 L324.75 478.18 L327.59 463.51 L330.42 455.74 L333.26 454.18 L336.09 457.11 L338.93 462.79 L341.76 469.82 L344.6 477.22 L347.44 484.39 L350.27 490.99 L353.11 496.87 L355.94 501.98 L358.78 506.36 L361.61 510.06 L364.45 513.18 L367.29 515.77 L370.12 517.93 L372.96 519.71 L375.79 521.19 L378.63 522.41 L381.46 523.41 L384.3 524.24 L387.14 524.93 L389.97 525.49 L392.81 525.96 L395.64 526.35 L398.48 526.67 L401.31 526.93 L404.15 527.15 L406.99 527.34 L409.82 527.49 L412.66 527.62 L415.49 527.72 L418.33 527.81 L421.16 527.89 L424 527.95" stroke="#6cbd4c" stroke-width="1.35" fill="none" stroke-linejoin="round" clip-path="url(#cL)"/><path d="M310.57 528.3 L313.41 528.3 L316.24 528.26 L319.08 527.64 L321.91 525.34 L324.75 520.7 L327.59 514.15 L330.42 506.74 L333.26 499.53 L336.09 493.33 L338.93 488.57 L341.76 485.38 L344.6 483.69 L347.44 483.29 L350.27 483.95 L353.11 485.4 L355.94 487.43 L358.78 489.84 L361.61 492.46 L364.45 495.18 L367.29 497.9 L370.12 500.55 L372.96 503.09 L375.79 505.48 L378.63 507.71 L381.46 509.77 L384.3 511.66 L387.14 513.39 L389.97 514.95 L392.81 516.36 L395.64 517.64 L398.48 518.78 L401.31 519.81 L404.15 520.72 L406.99 521.54 L409.82 522.27 L412.66 522.93 L415.49 523.51 L418.33 524.03 L421.16 524.49 L424 524.9" stroke="#3953aa" stroke-width="1.35" fill="none" stroke-linejoin="round" clip-path="url(#cL)"/><path d="M310.57 528.3 L313.41 528.3 L316.24 528.3 L319.08 528.29 L321.91 528.19 L324.75 527.88 L327.59 527.16 L330.42 525.94 L333.26 524.19 L336.09 521.98 L338.93 519.43 L341.76 516.71 L344.6 513.97 L347.44 511.33 L350.27 508.9 L353.11 506.76 L355.94 504.96 L358.78 503.5 L361.61 502.39 L364.45 501.62 L367.29 501.17 L370.12 501 L372.96 501.07 L375.79 501.37 L378.63 501.84 L381.46 502.46 L384.3 503.2 L387.14 504.04 L389.97 504.95 L392.81 505.9 L395.64 506.89 L398.48 507.89 L401.31 508.89 L404.15 509.89 L406.99 510.87 L409.82 511.83 L412.66 512.76 L415.49 513.66 L418.33 514.53 L421.16 515.36 L424 516.15" stroke="#7343a3" stroke-width="1.35" fill="none" stroke-linejoin="round" clip-path="url(#cL)"/><path d="M310.57 528.3 L313.41 528.3 L316.24 528.3 L319.08 528.3 L321.91 528.3 L324.75 528.3 L327.59 528.3 L330.42 528.3 L333.26 528.3 L336.09 528.29 L338.93 528.28 L341.76 528.26 L344.6 528.23 L347.44 528.18 L350.27 528.12 L353.11 528.03 L355.94 527.92 L358.78 527.79 L361.61 527.63 L364.45 527.44 L367.29 527.22 L370.12 526.98 L372.96 526.72 L375.79 526.43 L378.63 526.12 L381.46 525.8 L384.3 525.46 L387.14 525.1 L389.97 524.74 L392.81 524.37 L395.64 524 L398.48 523.63 L401.31 523.26 L404.15 522.89 L406.99 522.53 L409.82 522.17 L412.66 521.83 L415.49 521.5 L418.33 521.18 L421.16 520.88 L424 520.59" stroke="#e8222a" stroke-width="1.35" fill="none" stroke-linejoin="round" clip-path="url(#cL)"/><rect x="399.8" y="445.8" width="22.1" height="38.2" fill="#ffffff"/><text transform="translate(402.2 453.1) scale(1 1.2)" font-size="4.85" fill="#1a1a1a" stroke="#1a1a1a" stroke-width="0.12">Legend</text><path d="M402.4 459.2H406.8" stroke="#6cbd4c" stroke-width="1.6"/><text transform="translate(410 460.8) scale(1 1.2)" font-size="3.9" fill="#333" stroke="#333" stroke-width="0.12"><tspan fill="#dcdcdc" stroke="none">μ</tspan>=0.0</text><path d="M402.4 465.65H406.8" stroke="#3953aa" stroke-width="1.6"/><text transform="translate(410 467.25) scale(1 1.2)" font-size="3.9" fill="#333" stroke="#333" stroke-width="0.12"><tspan fill="#dcdcdc" stroke="none">μ</tspan>=0.5</text><path d="M402.4 472.1H406.8" stroke="#7343a3" stroke-width="1.6"/><text transform="translate(410 473.7) scale(1 1.2)" font-size="3.9" fill="#333" stroke="#333" stroke-width="0.12"><tspan fill="#dcdcdc" stroke="none">μ</tspan>=1.0</text><path d="M402.4 478.55H406.8" stroke="#e8222a" stroke-width="1.6"/><text transform="translate(410 480.15) scale(1 1.2)" font-size="3.9" fill="#333" stroke="#333" stroke-width="0.12"><tspan fill="#dcdcdc" stroke="none">μ</tspan>=2.0</text><path d="M303.5 528.3H304.9" stroke="#333" stroke-width="0.4"/><text transform="translate(302.9 530.65) scale(1 1.2)" font-size="5.0" fill="#4d4d4d" text-anchor="end">0.00</text><path d="M303.5 507.77H304.9" stroke="#333" stroke-width="0.4"/><text transform="translate(302.9 510.12) scale(1 1.2)" font-size="5.0" fill="#4d4d4d" text-anchor="end">0.25</text><path d="M303.5 487.25H304.9" stroke="#333" stroke-width="0.4"/><text transform="translate(302.9 489.6) scale(1 1.2)" font-size="5.0" fill="#4d4d4d" text-anchor="end">0.50</text><path d="M303.5 466.72H304.9" stroke="#333" stroke-width="0.4"/><text transform="translate(302.9 469.07) scale(1 1.2)" font-size="5.0" fill="#4d4d4d" text-anchor="end">0.75</text><path d="M303.5 446.2H304.9" stroke="#333" stroke-width="0.4"/><text transform="translate(302.9 448.55) scale(1 1.2)" font-size="5.0" fill="#4d4d4d" text-anchor="end">1.00</text><path d="M310.57 532.4V533.8" stroke="#333" stroke-width="0.4"/><text transform="translate(310.57 539.4) scale(1 1.2)" font-size="5.0" fill="#4d4d4d" text-anchor="middle">0</text><path d="M338.93 532.4V533.8" stroke="#333" stroke-width="0.4"/><text transform="translate(338.93 539.4) scale(1 1.2)" font-size="5.0" fill="#4d4d4d" text-anchor="middle">1</text><path d="M367.29 532.4V533.8" stroke="#333" stroke-width="0.4"/><text transform="translate(367.29 539.4) scale(1 1.2)" font-size="5.0" fill="#4d4d4d" text-anchor="middle">2</text><path d="M395.64 532.4V533.8" stroke="#333" stroke-width="0.4"/><text transform="translate(395.64 539.4) scale(1 1.2)" font-size="5.0" fill="#4d4d4d" text-anchor="middle">3</text><path d="M424 532.4V533.8" stroke="#333" stroke-width="0.4"/><text transform="translate(424 539.4) scale(1 1.2)" font-size="5.0" fill="#4d4d4d" text-anchor="middle">4</text><text transform="translate(367.29 545.6) scale(1 1.25)" font-size="4.5" fill="#111" stroke="#111" stroke-width="0.2" text-anchor="middle" font-weight="bold">time</text><text transform="translate(290.8 487.25) scale(1 1.3) rotate(-90)" font-size="4.0" fill="#111" stroke="#111" stroke-width="0.3" text-anchor="middle" font-weight="bold">f(t)</text><text transform="translate(347.8 439) scale(1 1.1)" font-size="7.8" fill="#000" stroke="#000" stroke-width="0.18" font-family="Liberation Serif" textLength="35.4" lengthAdjust="spacingAndGlyphs">log-normal:</text><text transform="translate(0 439) scale(1 1.1)" font-size="7.8" fill="#000" stroke="#000" stroke-width="0.16" font-family="Liberation Serif"><tspan x="385.7" font-style="italic">f</tspan><tspan x="390.1" font-size="8.8" dy="0.3">(</tspan><tspan x="392.7" font-style="italic" dy="-0.3">t</tspan><tspan x="395.35" font-size="8.8" dy="0.3">)</tspan></text><text transform="translate(299.5 439) scale(0.84 1.0)" font-size="8.2" fill="#111" stroke="#111" stroke-width="0.3" text-anchor="end" font-weight="bold" font-family="Liberation Serif">L.</text></g>
</g>
</svg>
</body></html>
